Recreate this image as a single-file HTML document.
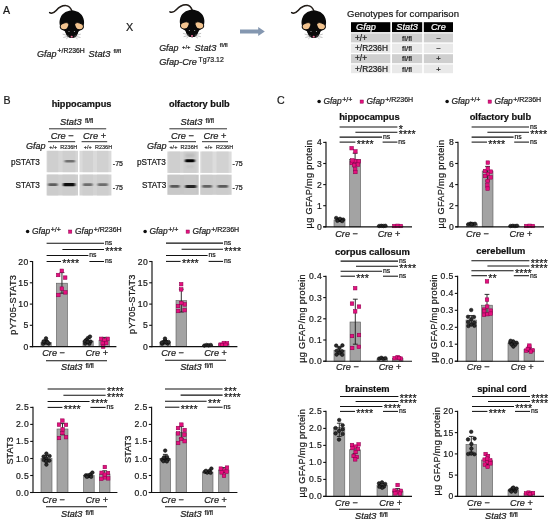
<!DOCTYPE html>
<html lang="en"><head><meta charset="utf-8"><title>Figure</title>
<style>html,body{margin:0;padding:0;background:#fff}svg{display:block}text{font-family:"Liberation Sans", sans-serif;white-space:pre}</style>
</head><body>
<svg width="550" height="526" viewBox="0 0 550 526">
<defs>
<filter id="b1" x="-20%" y="-100%" width="140%" height="300%"><feGaussianBlur stdDeviation="1.1 0.8"/></filter>
<filter id="b2" x="-20%" y="-100%" width="140%" height="300%"><feGaussianBlur stdDeviation="0.9 0.6"/></filter>
<filter id="b3" x="-5%" y="-5%" width="110%" height="110%"><feGaussianBlur stdDeviation="1.2 0.5"/></filter>
</defs>
<rect width="550" height="526" fill="#ffffff"/>
<g id="panelA">
<text x="3.00" y="14.40" font-size="10.60" fill="#1a1a1a" stroke="#1a1a1a" stroke-width="0.22">A</text>
<g transform="translate(0.00,0.00)">
<path d="M49.6,12.6 C51.6,13.8 53.8,13 56.2,10.4 C59.4,6.9 62.6,5.4 66,5.6 C69.4,5.9 71,8.4 72.2,11.6" fill="none" stroke="#0d0d0d" stroke-width="1.45" stroke-linecap="round"/>
<path d="M50.6,13 C52,13.5 53.8,13 56.2,10.4 C59.4,6.9 62.6,5.4 66,5.6 C69.4,5.9 71,8.4 72.2,11.6" fill="none" stroke="#7a5538" stroke-width="0.28" stroke-linecap="round"/>
<path d="M71.9,10.5 C76.6,10.5 80.6,12.8 82.6,16.4 C84.2,19.4 84.4,22.4 83.8,25 C83.2,27.6 81.6,29.6 79.6,30.8 L78.4,31.6 C77.8,33.6 76.8,35.4 75.8,36.6 C74.3,38.5 69.3,38.5 67.8,36.6 C66.8,35.4 65.8,33.6 65.2,31.6 L64,30.8 C62,29.6 60.4,27.6 59.8,25 C59.2,22.4 59.4,19.4 61,16.4 C63.2,12.8 67.2,10.5 71.9,10.5 Z" fill="#0a0a0a"/>
<ellipse cx="64.8" cy="26.2" rx="4.7" ry="3.4" transform="rotate(-16 64.8 26.2)" fill="#f3c48f" stroke="#0a0a0a" stroke-width="1.0"/>
<ellipse cx="78.8" cy="26.2" rx="4.7" ry="3.4" transform="rotate(16 78.8 26.2)" fill="#f3c48f" stroke="#0a0a0a" stroke-width="1.0"/>
<path d="M69.4,22 C70.2,20.5 73.4,20.5 74.2,22 C75,25 76.8,29 78.4,31.4 C77.8,33.6 76.8,35.4 75.8,36.6 C74.3,38.5 69.3,38.5 67.8,36.6 C66.8,35.4 65.8,33.6 65.2,31.4 C66.8,29 68.6,25 69.4,22 Z" fill="#0a0a0a"/>
<circle cx="69.0" cy="31.4" r="0.5" fill="#cfcfcf"/><circle cx="74.4" cy="31.4" r="0.5" fill="#cfcfcf"/>
<ellipse cx="71.7" cy="36.7" rx="1.05" ry="0.85" fill="#f0709c"/>
<line x1="68.80" y1="35.80" x2="62.60" y2="34.10" stroke="#6a6a6a" stroke-width="0.40" stroke-linecap="butt"/>
<line x1="68.80" y1="36.10" x2="63.30" y2="37.50" stroke="#6a6a6a" stroke-width="0.40" stroke-linecap="butt"/>
<line x1="69.00" y1="36.40" x2="66.30" y2="38.90" stroke="#6a6a6a" stroke-width="0.40" stroke-linecap="butt"/>
<line x1="74.60" y1="35.80" x2="80.80" y2="34.10" stroke="#6a6a6a" stroke-width="0.40" stroke-linecap="butt"/>
<line x1="74.60" y1="36.10" x2="80.50" y2="37.50" stroke="#6a6a6a" stroke-width="0.40" stroke-linecap="butt"/>
<line x1="74.40" y1="36.40" x2="77.50" y2="38.90" stroke="#6a6a6a" stroke-width="0.40" stroke-linecap="butt"/>
</g>
<text x="37.00" y="57.00" font-size="9.00" font-style="italic" fill="#1a1a1a" stroke="#1a1a1a" stroke-width="0.22">Gfap</text>
<text x="57.60" y="53.20" font-size="6.85" fill="#1a1a1a" stroke="#1a1a1a" stroke-width="0.22">+/R236H</text>
<text x="88.60" y="57.00" font-size="9.30" font-style="italic" fill="#1a1a1a" stroke="#1a1a1a" stroke-width="0.22">Stat3</text>
<text x="113.60" y="53.00" font-size="5.80" fill="#1a1a1a" stroke="#1a1a1a" stroke-width="0.22">fl/fl</text>
<text x="126.00" y="31.00" font-size="10.80" fill="#1a1a1a" stroke="#1a1a1a" stroke-width="0.22">X</text>
<g transform="translate(120.30,-0.80)">
<path d="M49.6,12.6 C51.6,13.8 53.8,13 56.2,10.4 C59.4,6.9 62.6,5.4 66,5.6 C69.4,5.9 71,8.4 72.2,11.6" fill="none" stroke="#0d0d0d" stroke-width="1.45" stroke-linecap="round"/>
<path d="M50.6,13 C52,13.5 53.8,13 56.2,10.4 C59.4,6.9 62.6,5.4 66,5.6 C69.4,5.9 71,8.4 72.2,11.6" fill="none" stroke="#7a5538" stroke-width="0.28" stroke-linecap="round"/>
<path d="M71.9,10.5 C76.6,10.5 80.6,12.8 82.6,16.4 C84.2,19.4 84.4,22.4 83.8,25 C83.2,27.6 81.6,29.6 79.6,30.8 L78.4,31.6 C77.8,33.6 76.8,35.4 75.8,36.6 C74.3,38.5 69.3,38.5 67.8,36.6 C66.8,35.4 65.8,33.6 65.2,31.6 L64,30.8 C62,29.6 60.4,27.6 59.8,25 C59.2,22.4 59.4,19.4 61,16.4 C63.2,12.8 67.2,10.5 71.9,10.5 Z" fill="#0a0a0a"/>
<ellipse cx="64.8" cy="26.2" rx="4.7" ry="3.4" transform="rotate(-16 64.8 26.2)" fill="#f3c48f" stroke="#0a0a0a" stroke-width="1.0"/>
<ellipse cx="78.8" cy="26.2" rx="4.7" ry="3.4" transform="rotate(16 78.8 26.2)" fill="#f3c48f" stroke="#0a0a0a" stroke-width="1.0"/>
<path d="M69.4,22 C70.2,20.5 73.4,20.5 74.2,22 C75,25 76.8,29 78.4,31.4 C77.8,33.6 76.8,35.4 75.8,36.6 C74.3,38.5 69.3,38.5 67.8,36.6 C66.8,35.4 65.8,33.6 65.2,31.4 C66.8,29 68.6,25 69.4,22 Z" fill="#0a0a0a"/>
<circle cx="69.0" cy="31.4" r="0.5" fill="#cfcfcf"/><circle cx="74.4" cy="31.4" r="0.5" fill="#cfcfcf"/>
<ellipse cx="71.7" cy="36.7" rx="1.05" ry="0.85" fill="#f0709c"/>
<line x1="68.80" y1="35.80" x2="62.60" y2="34.10" stroke="#6a6a6a" stroke-width="0.40" stroke-linecap="butt"/>
<line x1="68.80" y1="36.10" x2="63.30" y2="37.50" stroke="#6a6a6a" stroke-width="0.40" stroke-linecap="butt"/>
<line x1="69.00" y1="36.40" x2="66.30" y2="38.90" stroke="#6a6a6a" stroke-width="0.40" stroke-linecap="butt"/>
<line x1="74.60" y1="35.80" x2="80.80" y2="34.10" stroke="#6a6a6a" stroke-width="0.40" stroke-linecap="butt"/>
<line x1="74.60" y1="36.10" x2="80.50" y2="37.50" stroke="#6a6a6a" stroke-width="0.40" stroke-linecap="butt"/>
<line x1="74.40" y1="36.40" x2="77.50" y2="38.90" stroke="#6a6a6a" stroke-width="0.40" stroke-linecap="butt"/>
</g>
<text x="159.20" y="51.40" font-size="8.90" font-style="italic" fill="#1a1a1a" stroke="#1a1a1a" stroke-width="0.22">Gfap</text>
<text x="182.00" y="48.90" font-size="5.90" fill="#1a1a1a" stroke="#1a1a1a" stroke-width="0.22">+/+</text>
<text x="194.60" y="51.40" font-size="9.30" font-style="italic" fill="#1a1a1a" stroke="#1a1a1a" stroke-width="0.22">Stat3</text>
<text x="219.80" y="47.20" font-size="6.20" fill="#1a1a1a" stroke="#1a1a1a" stroke-width="0.22">fl/fl</text>
<text x="159.20" y="65.30" font-size="9.20" font-style="italic" fill="#1a1a1a" stroke="#1a1a1a" stroke-width="0.22">Gfap-Cre</text>
<text x="198.50" y="62.20" font-size="6.90" fill="#1a1a1a" stroke="#1a1a1a" stroke-width="0.22">Tg73.12</text>
<path d="M240,29.5 H258.2 V27 L264.8,31.5 L258.2,36 V33.6 H240 Z" fill="#8497b0"/>
<g transform="translate(242.00,0.00)">
<path d="M49.6,12.6 C51.6,13.8 53.8,13 56.2,10.4 C59.4,6.9 62.6,5.4 66,5.6 C69.4,5.9 71,8.4 72.2,11.6" fill="none" stroke="#0d0d0d" stroke-width="1.45" stroke-linecap="round"/>
<path d="M50.6,13 C52,13.5 53.8,13 56.2,10.4 C59.4,6.9 62.6,5.4 66,5.6 C69.4,5.9 71,8.4 72.2,11.6" fill="none" stroke="#7a5538" stroke-width="0.28" stroke-linecap="round"/>
<path d="M71.9,10.5 C76.6,10.5 80.6,12.8 82.6,16.4 C84.2,19.4 84.4,22.4 83.8,25 C83.2,27.6 81.6,29.6 79.6,30.8 L78.4,31.6 C77.8,33.6 76.8,35.4 75.8,36.6 C74.3,38.5 69.3,38.5 67.8,36.6 C66.8,35.4 65.8,33.6 65.2,31.6 L64,30.8 C62,29.6 60.4,27.6 59.8,25 C59.2,22.4 59.4,19.4 61,16.4 C63.2,12.8 67.2,10.5 71.9,10.5 Z" fill="#0a0a0a"/>
<ellipse cx="64.8" cy="26.2" rx="4.7" ry="3.4" transform="rotate(-16 64.8 26.2)" fill="#f3c48f" stroke="#0a0a0a" stroke-width="1.0"/>
<ellipse cx="78.8" cy="26.2" rx="4.7" ry="3.4" transform="rotate(16 78.8 26.2)" fill="#f3c48f" stroke="#0a0a0a" stroke-width="1.0"/>
<path d="M69.4,22 C70.2,20.5 73.4,20.5 74.2,22 C75,25 76.8,29 78.4,31.4 C77.8,33.6 76.8,35.4 75.8,36.6 C74.3,38.5 69.3,38.5 67.8,36.6 C66.8,35.4 65.8,33.6 65.2,31.4 C66.8,29 68.6,25 69.4,22 Z" fill="#0a0a0a"/>
<circle cx="69.0" cy="31.4" r="0.5" fill="#cfcfcf"/><circle cx="74.4" cy="31.4" r="0.5" fill="#cfcfcf"/>
<ellipse cx="71.7" cy="36.7" rx="1.05" ry="0.85" fill="#f0709c"/>
<line x1="68.80" y1="35.80" x2="62.60" y2="34.10" stroke="#6a6a6a" stroke-width="0.40" stroke-linecap="butt"/>
<line x1="68.80" y1="36.10" x2="63.30" y2="37.50" stroke="#6a6a6a" stroke-width="0.40" stroke-linecap="butt"/>
<line x1="69.00" y1="36.40" x2="66.30" y2="38.90" stroke="#6a6a6a" stroke-width="0.40" stroke-linecap="butt"/>
<line x1="74.60" y1="35.80" x2="80.80" y2="34.10" stroke="#6a6a6a" stroke-width="0.40" stroke-linecap="butt"/>
<line x1="74.60" y1="36.10" x2="80.50" y2="37.50" stroke="#6a6a6a" stroke-width="0.40" stroke-linecap="butt"/>
<line x1="74.40" y1="36.40" x2="77.50" y2="38.90" stroke="#6a6a6a" stroke-width="0.40" stroke-linecap="butt"/>
</g>
<text x="347.00" y="17.10" font-size="9.55" fill="#1a1a1a" stroke="#1a1a1a" stroke-width="0.22">Genotypes for comparison</text>
<rect x="351.00" y="22.20" width="39.30" height="9.90" fill="#000"/>
<rect x="392.00" y="22.20" width="30.20" height="9.90" fill="#000"/>
<rect x="423.80" y="22.20" width="29.20" height="9.90" fill="#000"/>
<text x="356.00" y="30.40" font-size="9.20" font-style="italic" fill="#fff" stroke="#fff" stroke-width="0.22">Gfap</text>
<text x="407.10" y="30.40" font-size="9.20" font-style="italic" text-anchor="middle" fill="#fff" stroke="#fff" stroke-width="0.22">Stat3</text>
<text x="438.40" y="30.40" font-size="9.20" font-style="italic" text-anchor="middle" fill="#fff" stroke="#fff" stroke-width="0.22">Cre</text>
<rect x="351.00" y="33.40" width="39.30" height="9.00" fill="#cfcfcf"/>
<rect x="392.00" y="33.40" width="30.20" height="9.00" fill="#cfcfcf"/>
<rect x="423.80" y="33.40" width="29.20" height="9.00" fill="#cfcfcf"/>
<text x="355.00" y="40.60" font-size="8.30" fill="#1a1a1a" stroke="#1a1a1a" stroke-width="0.22">+/+</text>
<text x="407.10" y="40.60" font-size="7.80" text-anchor="middle" fill="#1a1a1a" stroke="#1a1a1a" stroke-width="0.22">fl/fl</text>
<text x="438.40" y="40.60" font-size="7.60" text-anchor="middle" fill="#1a1a1a" stroke="#1a1a1a" stroke-width="0.22">−</text>
<rect x="351.00" y="43.70" width="39.30" height="9.20" fill="#e9e9e9"/>
<rect x="392.00" y="43.70" width="30.20" height="9.20" fill="#e9e9e9"/>
<rect x="423.80" y="43.70" width="29.20" height="9.20" fill="#e9e9e9"/>
<text x="355.00" y="51.00" font-size="8.30" fill="#1a1a1a" stroke="#1a1a1a" stroke-width="0.22">+/R236H</text>
<text x="407.10" y="51.00" font-size="7.80" text-anchor="middle" fill="#1a1a1a" stroke="#1a1a1a" stroke-width="0.22">fl/fl</text>
<text x="438.40" y="51.00" font-size="7.60" text-anchor="middle" fill="#1a1a1a" stroke="#1a1a1a" stroke-width="0.22">−</text>
<rect x="351.00" y="54.20" width="39.30" height="9.00" fill="#cfcfcf"/>
<rect x="392.00" y="54.20" width="30.20" height="9.00" fill="#cfcfcf"/>
<rect x="423.80" y="54.20" width="29.20" height="9.00" fill="#cfcfcf"/>
<text x="355.00" y="61.40" font-size="8.30" fill="#1a1a1a" stroke="#1a1a1a" stroke-width="0.22">+/+</text>
<text x="407.10" y="61.40" font-size="7.80" text-anchor="middle" fill="#1a1a1a" stroke="#1a1a1a" stroke-width="0.22">fl/fl</text>
<text x="438.40" y="61.40" font-size="7.60" text-anchor="middle" fill="#1a1a1a" stroke="#1a1a1a" stroke-width="0.22">+</text>
<rect x="351.00" y="64.50" width="39.30" height="8.70" fill="#e9e9e9"/>
<rect x="392.00" y="64.50" width="30.20" height="8.70" fill="#e9e9e9"/>
<rect x="423.80" y="64.50" width="29.20" height="8.70" fill="#e9e9e9"/>
<text x="355.00" y="71.55" font-size="8.30" fill="#1a1a1a" stroke="#1a1a1a" stroke-width="0.22">+/R236H</text>
<text x="407.10" y="71.55" font-size="7.80" text-anchor="middle" fill="#1a1a1a" stroke="#1a1a1a" stroke-width="0.22">fl/fl</text>
<text x="438.40" y="71.55" font-size="7.60" text-anchor="middle" fill="#1a1a1a" stroke="#1a1a1a" stroke-width="0.22">+</text>
</g>
<g id="panelB">
<text x="3.40" y="104.20" font-size="10.60" fill="#1a1a1a" stroke="#1a1a1a" stroke-width="0.22">B</text>
<text x="81.50" y="106.80" font-size="9.20" font-weight="bold" text-anchor="middle" fill="#111" stroke="#111" stroke-width="0.22">hippocampus</text>
<text x="60.00" y="124.80" font-size="9.35" font-style="italic" fill="#1a1a1a" stroke="#1a1a1a" stroke-width="0.22">Stat3</text>
<text x="85.00" y="122.90" font-size="6.50" fill="#1a1a1a" stroke="#1a1a1a" stroke-width="0.22">fl/fl</text>
<line x1="49.00" y1="128.80" x2="106.20" y2="128.80" stroke="#1a1a1a" stroke-width="0.90" stroke-linecap="butt"/>
<text x="62.20" y="139.40" font-size="9.30" text-anchor="middle" fill="#1a1a1a" stroke="#1a1a1a" stroke-width="0.22"><tspan font-style="italic">Cre</tspan> −</text>
<text x="94.60" y="139.40" font-size="9.30" text-anchor="middle" fill="#1a1a1a" stroke="#1a1a1a" stroke-width="0.22"><tspan font-style="italic">Cre</tspan> +</text>
<line x1="48.00" y1="141.70" x2="75.20" y2="141.70" stroke="#1a1a1a" stroke-width="0.90" stroke-linecap="butt"/>
<line x1="81.60" y1="141.70" x2="107.20" y2="141.70" stroke="#1a1a1a" stroke-width="0.90" stroke-linecap="butt"/>
<text x="26.00" y="149.00" font-size="9.00" font-style="italic" fill="#1a1a1a" stroke="#1a1a1a" stroke-width="0.22">Gfap</text>
<text x="49.20" y="148.80" font-size="5.50" fill="#333" stroke="#333" stroke-width="0.22">+/+</text>
<text x="60.20" y="148.80" font-size="5.50" fill="#333" stroke="#333" stroke-width="0.22">R236H</text>
<text x="83.80" y="148.80" font-size="5.50" fill="#333" stroke="#333" stroke-width="0.22">+/+</text>
<text x="95.00" y="148.80" font-size="5.50" fill="#333" stroke="#333" stroke-width="0.22">R236H</text>
<rect x="46.60" y="150.80" width="31.40" height="21.40" fill="#d6d6d6"/>
<rect x="79.50" y="150.80" width="31.90" height="21.40" fill="#dadada"/>
<rect x="47.60" y="150.80" width="10.60" height="21.40" fill="#cbcbcb" opacity="0.55"/>
<rect x="62.60" y="150.80" width="12.80" height="21.40" fill="#cbcbcb" opacity="0.55"/>
<rect x="82.60" y="150.80" width="10.40" height="21.40" fill="#cbcbcb" opacity="0.55"/>
<rect x="97.00" y="150.80" width="11.40" height="21.40" fill="#cbcbcb" opacity="0.55"/>
<rect x="46.60" y="174.50" width="31.40" height="21.00" fill="#cfcfcf"/>
<rect x="79.50" y="174.50" width="31.90" height="21.00" fill="#d3d3d3"/>
<rect x="47.60" y="174.50" width="10.60" height="21.00" fill="#cbcbcb" opacity="0.55"/>
<rect x="62.60" y="174.50" width="12.80" height="21.00" fill="#cbcbcb" opacity="0.55"/>
<rect x="82.60" y="174.50" width="10.40" height="21.00" fill="#cbcbcb" opacity="0.55"/>
<rect x="97.00" y="174.50" width="11.40" height="21.00" fill="#cbcbcb" opacity="0.55"/>
<rect x="64.60" y="160.00" width="10.40" height="2.60" rx="1" fill="#4a4a4a" opacity="0.70" filter="url(#b2)"/>
<rect x="48.20" y="183.20" width="9.40" height="2.80" rx="1" fill="#4a4a4a" opacity="0.85" filter="url(#b2)"/>
<rect x="63.00" y="183.00" width="12.20" height="3.20" rx="1" fill="#0a0a0a" opacity="1.00" filter="url(#b2)"/>
<rect x="83.00" y="183.30" width="9.60" height="2.60" rx="1" fill="#555" opacity="0.80" filter="url(#b2)"/>
<rect x="97.60" y="183.30" width="10.20" height="2.60" rx="1" fill="#555" opacity="0.80" filter="url(#b2)"/>
<text x="11.00" y="165.20" font-size="8.20" fill="#1a1a1a" stroke="#1a1a1a" stroke-width="0.22">pSTAT3</text>
<text x="15.60" y="188.20" font-size="8.20" fill="#1a1a1a" stroke="#1a1a1a" stroke-width="0.22">STAT3</text>
<text x="112.80" y="166.20" font-size="7.00" fill="#1a1a1a" stroke="#1a1a1a" stroke-width="0.22">-75</text>
<text x="112.80" y="190.40" font-size="7.00" fill="#1a1a1a" stroke="#1a1a1a" stroke-width="0.22">-75</text>
<text x="199.30" y="106.80" font-size="9.20" font-weight="bold" text-anchor="middle" fill="#111" stroke="#111" stroke-width="0.22">olfactory bulb</text>
<text x="180.60" y="124.80" font-size="9.35" font-style="italic" fill="#1a1a1a" stroke="#1a1a1a" stroke-width="0.22">Stat3</text>
<text x="205.60" y="122.90" font-size="6.50" fill="#1a1a1a" stroke="#1a1a1a" stroke-width="0.22">fl/fl</text>
<line x1="169.40" y1="128.80" x2="227.00" y2="128.80" stroke="#1a1a1a" stroke-width="0.90" stroke-linecap="butt"/>
<text x="182.50" y="139.40" font-size="9.30" text-anchor="middle" fill="#1a1a1a" stroke="#1a1a1a" stroke-width="0.22"><tspan font-style="italic">Cre</tspan> −</text>
<text x="215.00" y="139.40" font-size="9.30" text-anchor="middle" fill="#1a1a1a" stroke="#1a1a1a" stroke-width="0.22"><tspan font-style="italic">Cre</tspan> +</text>
<line x1="168.60" y1="141.70" x2="196.00" y2="141.70" stroke="#1a1a1a" stroke-width="0.90" stroke-linecap="butt"/>
<line x1="202.00" y1="141.70" x2="228.00" y2="141.70" stroke="#1a1a1a" stroke-width="0.90" stroke-linecap="butt"/>
<text x="147.00" y="149.00" font-size="9.00" font-style="italic" fill="#1a1a1a" stroke="#1a1a1a" stroke-width="0.22">Gfap</text>
<text x="169.40" y="148.80" font-size="5.50" fill="#333" stroke="#333" stroke-width="0.22">+/+</text>
<text x="180.60" y="148.80" font-size="5.50" fill="#333" stroke="#333" stroke-width="0.22">R236H</text>
<text x="204.60" y="148.80" font-size="5.50" fill="#333" stroke="#333" stroke-width="0.22">+/+</text>
<text x="216.00" y="148.80" font-size="5.50" fill="#333" stroke="#333" stroke-width="0.22">R236H</text>
<rect x="167.40" y="151.50" width="31.30" height="21.40" fill="#d4d4d4"/>
<rect x="200.20" y="151.50" width="31.40" height="21.40" fill="#dcdcdc"/>
<rect x="169.40" y="151.50" width="10.60" height="21.40" fill="#cbcbcb" opacity="0.55"/>
<rect x="183.60" y="151.50" width="12.80" height="21.40" fill="#cbcbcb" opacity="0.55"/>
<rect x="201.60" y="151.50" width="10.80" height="21.40" fill="#cbcbcb" opacity="0.55"/>
<rect x="216.60" y="151.50" width="12.00" height="21.40" fill="#cbcbcb" opacity="0.55"/>
<rect x="167.40" y="174.70" width="31.30" height="20.10" fill="#c6c6c6"/>
<rect x="200.20" y="174.70" width="31.40" height="20.10" fill="#cecece"/>
<rect x="169.40" y="174.70" width="10.60" height="20.10" fill="#cbcbcb" opacity="0.55"/>
<rect x="183.60" y="174.70" width="12.80" height="20.10" fill="#cbcbcb" opacity="0.55"/>
<rect x="201.60" y="174.70" width="10.80" height="20.10" fill="#cbcbcb" opacity="0.55"/>
<rect x="216.60" y="174.70" width="12.00" height="20.10" fill="#cbcbcb" opacity="0.55"/>
<rect x="185.00" y="159.35" width="9.80" height="2.90" rx="1" fill="#000" opacity="1.00" filter="url(#b2)"/>
<rect x="185.40" y="153.40" width="9.20" height="4.00" rx="1" fill="#888" opacity="0.28" filter="url(#b1)"/>
<rect x="186.00" y="165.50" width="8.00" height="2.00" rx="1" fill="#888" opacity="0.20" filter="url(#b1)"/>
<rect x="169.90" y="185.00" width="9.70" height="2.80" rx="1" fill="#444" opacity="0.85" filter="url(#b2)"/>
<rect x="185.20" y="184.90" width="11.20" height="3.00" rx="1" fill="#1c1c1c" opacity="0.95" filter="url(#b2)"/>
<rect x="202.20" y="185.00" width="9.80" height="2.80" rx="1" fill="#4c4c4c" opacity="0.82" filter="url(#b2)"/>
<rect x="217.50" y="184.95" width="10.50" height="2.90" rx="1" fill="#464646" opacity="0.85" filter="url(#b2)"/>
<text x="137.00" y="165.20" font-size="8.20" fill="#1a1a1a" stroke="#1a1a1a" stroke-width="0.22">pSTAT3</text>
<text x="142.00" y="188.20" font-size="8.20" fill="#1a1a1a" stroke="#1a1a1a" stroke-width="0.22">STAT3</text>
<text x="232.60" y="166.20" font-size="7.00" fill="#1a1a1a" stroke="#1a1a1a" stroke-width="0.22">-75</text>
<text x="232.60" y="190.40" font-size="7.00" fill="#1a1a1a" stroke="#1a1a1a" stroke-width="0.22">-75</text>
<circle cx="27.60" cy="231.60" r="1.75" fill="#0d0d0d"/>
<text x="32.00" y="234.40" font-size="8.40" font-style="italic" fill="#1a1a1a" stroke="#1a1a1a" stroke-width="0.22">Gfap</text>
<text x="50.70" y="232.00" font-size="7.00" fill="#1a1a1a" stroke="#1a1a1a" stroke-width="0.22">+/+</text>
<rect x="68.60" y="230.00" width="3.20" height="3.20" fill="#e6107e" stroke="#8e0050" stroke-width="0.50"/>
<text x="75.10" y="234.40" font-size="8.40" font-style="italic" fill="#1a1a1a" stroke="#1a1a1a" stroke-width="0.22">Gfap</text>
<text x="93.70" y="232.00" font-size="7.05" fill="#1a1a1a" stroke="#1a1a1a" stroke-width="0.22">+/R236H</text>
<circle cx="145.10" cy="231.60" r="1.75" fill="#0d0d0d"/>
<text x="149.50" y="234.40" font-size="8.40" font-style="italic" fill="#1a1a1a" stroke="#1a1a1a" stroke-width="0.22">Gfap</text>
<text x="168.20" y="232.00" font-size="7.00" fill="#1a1a1a" stroke="#1a1a1a" stroke-width="0.22">+/+</text>
<rect x="186.10" y="230.00" width="3.20" height="3.20" fill="#e6107e" stroke="#8e0050" stroke-width="0.50"/>
<text x="192.60" y="234.40" font-size="8.40" font-style="italic" fill="#1a1a1a" stroke="#1a1a1a" stroke-width="0.22">Gfap</text>
<text x="211.20" y="232.00" font-size="7.05" fill="#1a1a1a" stroke="#1a1a1a" stroke-width="0.22">+/R236H</text>
<rect x="41.00" y="342.40" width="10.20" height="4.20" fill="#a3a3a3" stroke="#5a5a5a" stroke-width="0.60"/>
<line x1="46.10" y1="340.60" x2="46.10" y2="344.20" stroke="#1a1a1a" stroke-width="0.90" stroke-linecap="butt"/>
<line x1="43.70" y1="340.60" x2="48.50" y2="340.60" stroke="#1a1a1a" stroke-width="0.90" stroke-linecap="butt"/>
<line x1="43.70" y1="344.20" x2="48.50" y2="344.20" stroke="#1a1a1a" stroke-width="0.90" stroke-linecap="butt"/>
<circle cx="43.20" cy="343.80" r="1.80" fill="#2b2b2b" stroke="#000" stroke-width="0.5"/>
<circle cx="46.20" cy="341.00" r="1.80" fill="#2b2b2b" stroke="#000" stroke-width="0.5"/>
<circle cx="48.80" cy="343.60" r="1.80" fill="#2b2b2b" stroke="#000" stroke-width="0.5"/>
<circle cx="44.60" cy="342.00" r="1.80" fill="#2b2b2b" stroke="#000" stroke-width="0.5"/>
<circle cx="47.60" cy="342.40" r="1.80" fill="#2b2b2b" stroke="#000" stroke-width="0.5"/>
<circle cx="46.00" cy="338.40" r="1.80" fill="#2b2b2b" stroke="#000" stroke-width="0.5"/>
<circle cx="43.60" cy="341.40" r="1.80" fill="#2b2b2b" stroke="#000" stroke-width="0.5"/>
<rect x="56.40" y="283.20" width="11.10" height="63.40" fill="#a3a3a3" stroke="#5a5a5a" stroke-width="0.60"/>
<line x1="61.95" y1="272.60" x2="61.95" y2="293.20" stroke="#1a1a1a" stroke-width="0.90" stroke-linecap="butt"/>
<line x1="59.55" y1="272.60" x2="64.35" y2="272.60" stroke="#1a1a1a" stroke-width="0.90" stroke-linecap="butt"/>
<line x1="59.55" y1="293.20" x2="64.35" y2="293.20" stroke="#1a1a1a" stroke-width="0.90" stroke-linecap="butt"/>
<rect x="60.05" y="269.05" width="3.50" height="3.50" fill="#e6107e" stroke="#8e0050" stroke-width="0.55"/>
<rect x="56.45" y="273.25" width="3.50" height="3.50" fill="#e6107e" stroke="#8e0050" stroke-width="0.55"/>
<rect x="63.45" y="275.85" width="3.50" height="3.50" fill="#e6107e" stroke="#8e0050" stroke-width="0.55"/>
<rect x="60.05" y="286.85" width="3.50" height="3.50" fill="#e6107e" stroke="#8e0050" stroke-width="0.55"/>
<rect x="63.65" y="290.65" width="3.50" height="3.50" fill="#e6107e" stroke="#8e0050" stroke-width="0.55"/>
<rect x="56.65" y="293.25" width="3.50" height="3.50" fill="#e6107e" stroke="#8e0050" stroke-width="0.55"/>
<rect x="83.00" y="341.00" width="10.20" height="5.60" fill="#a3a3a3" stroke="#5a5a5a" stroke-width="0.60"/>
<line x1="88.10" y1="338.40" x2="88.10" y2="343.60" stroke="#1a1a1a" stroke-width="0.90" stroke-linecap="butt"/>
<line x1="85.70" y1="338.40" x2="90.50" y2="338.40" stroke="#1a1a1a" stroke-width="0.90" stroke-linecap="butt"/>
<line x1="85.70" y1="343.60" x2="90.50" y2="343.60" stroke="#1a1a1a" stroke-width="0.90" stroke-linecap="butt"/>
<circle cx="85.20" cy="343.60" r="1.80" fill="#2b2b2b" stroke="#000" stroke-width="0.5"/>
<circle cx="88.00" cy="338.00" r="1.80" fill="#2b2b2b" stroke="#000" stroke-width="0.5"/>
<circle cx="90.60" cy="341.60" r="1.80" fill="#2b2b2b" stroke="#000" stroke-width="0.5"/>
<circle cx="86.20" cy="340.00" r="1.80" fill="#2b2b2b" stroke="#000" stroke-width="0.5"/>
<circle cx="89.40" cy="343.80" r="1.80" fill="#2b2b2b" stroke="#000" stroke-width="0.5"/>
<circle cx="85.00" cy="341.20" r="1.80" fill="#2b2b2b" stroke="#000" stroke-width="0.5"/>
<circle cx="90.00" cy="336.60" r="1.80" fill="#2b2b2b" stroke="#000" stroke-width="0.5"/>
<circle cx="87.60" cy="342.00" r="1.80" fill="#2b2b2b" stroke="#000" stroke-width="0.5"/>
<rect x="99.00" y="340.20" width="10.40" height="6.40" fill="#a3a3a3" stroke="#5a5a5a" stroke-width="0.60"/>
<line x1="104.20" y1="337.40" x2="104.20" y2="343.00" stroke="#1a1a1a" stroke-width="0.90" stroke-linecap="butt"/>
<line x1="101.80" y1="337.40" x2="106.60" y2="337.40" stroke="#1a1a1a" stroke-width="0.90" stroke-linecap="butt"/>
<line x1="101.80" y1="343.00" x2="106.60" y2="343.00" stroke="#1a1a1a" stroke-width="0.90" stroke-linecap="butt"/>
<rect x="99.45" y="337.05" width="3.50" height="3.50" fill="#e6107e" stroke="#8e0050" stroke-width="0.55"/>
<rect x="105.95" y="337.05" width="3.50" height="3.50" fill="#e6107e" stroke="#8e0050" stroke-width="0.55"/>
<rect x="102.75" y="338.55" width="3.50" height="3.50" fill="#e6107e" stroke="#8e0050" stroke-width="0.55"/>
<rect x="100.85" y="341.45" width="3.50" height="3.50" fill="#e6107e" stroke="#8e0050" stroke-width="0.55"/>
<rect x="104.55" y="341.25" width="3.50" height="3.50" fill="#e6107e" stroke="#8e0050" stroke-width="0.55"/>
<rect x="101.45" y="344.85" width="3.50" height="3.50" fill="#e6107e" stroke="#8e0050" stroke-width="0.55"/>
<line x1="32.60" y1="260.95" x2="32.60" y2="347.15" stroke="#111" stroke-width="1.15" stroke-linecap="butt"/>
<line x1="29.80" y1="346.60" x2="116.40" y2="346.60" stroke="#111" stroke-width="1.15" stroke-linecap="butt"/>
<line x1="29.80" y1="261.50" x2="32.60" y2="261.50" stroke="#111" stroke-width="1.10" stroke-linecap="butt"/>
<text x="28.70" y="264.55" font-size="8.60" text-anchor="end" fill="#1a1a1a" stroke="#1a1a1a" stroke-width="0.22" letter-spacing="0.4">20</text>
<line x1="29.80" y1="282.80" x2="32.60" y2="282.80" stroke="#111" stroke-width="1.10" stroke-linecap="butt"/>
<text x="28.70" y="285.85" font-size="8.60" text-anchor="end" fill="#1a1a1a" stroke="#1a1a1a" stroke-width="0.22" letter-spacing="0.4">15</text>
<line x1="29.80" y1="304.10" x2="32.60" y2="304.10" stroke="#111" stroke-width="1.10" stroke-linecap="butt"/>
<text x="28.70" y="307.15" font-size="8.60" text-anchor="end" fill="#1a1a1a" stroke="#1a1a1a" stroke-width="0.22" letter-spacing="0.4">10</text>
<line x1="29.80" y1="325.30" x2="32.60" y2="325.30" stroke="#111" stroke-width="1.10" stroke-linecap="butt"/>
<text x="28.70" y="328.35" font-size="8.60" text-anchor="end" fill="#1a1a1a" stroke="#1a1a1a" stroke-width="0.22" letter-spacing="0.4">5</text>
<line x1="29.80" y1="346.60" x2="32.60" y2="346.60" stroke="#111" stroke-width="1.10" stroke-linecap="butt"/>
<text x="28.70" y="349.65" font-size="8.60" text-anchor="end" fill="#1a1a1a" stroke="#1a1a1a" stroke-width="0.22" letter-spacing="0.4">0</text>
<text x="53.60" y="356.40" font-size="9.20" text-anchor="middle" fill="#1a1a1a" stroke="#1a1a1a" stroke-width="0.22"><tspan font-style="italic">Cre</tspan> −</text>
<text x="96.80" y="356.40" font-size="9.20" text-anchor="middle" fill="#1a1a1a" stroke="#1a1a1a" stroke-width="0.22"><tspan font-style="italic">Cre</tspan> +</text>
<line x1="46.00" y1="360.70" x2="107.00" y2="360.70" stroke="#111" stroke-width="1.05" stroke-linecap="butt"/>
<text x="61.00" y="370.00" font-size="9.20" font-style="italic" fill="#1a1a1a" stroke="#1a1a1a" stroke-width="0.22">Stat3</text>
<text x="85.40" y="368.10" font-size="6.50" fill="#1a1a1a" stroke="#1a1a1a" stroke-width="0.22">fl/fl</text>
<line x1="46.60" y1="243.30" x2="104.00" y2="243.30" stroke="#111" stroke-width="1.05" stroke-linecap="butt"/>
<text x="104.90" y="245.20" font-size="6.80" fill="#1a1a1a" stroke="#1a1a1a" stroke-width="0.22">ns</text>
<line x1="62.40" y1="249.40" x2="104.00" y2="249.40" stroke="#111" stroke-width="1.05" stroke-linecap="butt"/>
<text x="105.30" y="255.30" font-size="10.60" fill="#1a1a1a" stroke="#1a1a1a" stroke-width="0.22" letter-spacing="0.12">****</text>
<line x1="46.60" y1="255.50" x2="88.40" y2="255.50" stroke="#111" stroke-width="1.05" stroke-linecap="butt"/>
<text x="89.30" y="257.40" font-size="6.80" fill="#1a1a1a" stroke="#1a1a1a" stroke-width="0.22">ns</text>
<line x1="46.60" y1="261.50" x2="61.00" y2="261.50" stroke="#111" stroke-width="1.05" stroke-linecap="butt"/>
<text x="62.30" y="267.40" font-size="10.60" fill="#1a1a1a" stroke="#1a1a1a" stroke-width="0.22" letter-spacing="0.12">****</text>
<line x1="89.40" y1="261.50" x2="104.00" y2="261.50" stroke="#111" stroke-width="1.05" stroke-linecap="butt"/>
<text x="104.90" y="263.40" font-size="6.80" fill="#1a1a1a" stroke="#1a1a1a" stroke-width="0.22">ns</text>
<text transform="translate(15.60,304.90) rotate(-90)" x="-29.80" y="0" font-size="9.20" textLength="59.60" lengthAdjust="spacing" fill="#1a1a1a" stroke="#1a1a1a" stroke-width="0.22">pY705-STAT3</text>
<rect x="160.00" y="342.40" width="10.40" height="4.20" fill="#a3a3a3" stroke="#5a5a5a" stroke-width="0.60"/>
<line x1="165.20" y1="340.60" x2="165.20" y2="344.00" stroke="#1a1a1a" stroke-width="0.90" stroke-linecap="butt"/>
<line x1="162.80" y1="340.60" x2="167.60" y2="340.60" stroke="#1a1a1a" stroke-width="0.90" stroke-linecap="butt"/>
<line x1="162.80" y1="344.00" x2="167.60" y2="344.00" stroke="#1a1a1a" stroke-width="0.90" stroke-linecap="butt"/>
<circle cx="162.20" cy="343.80" r="1.80" fill="#2b2b2b" stroke="#000" stroke-width="0.5"/>
<circle cx="165.20" cy="340.60" r="1.80" fill="#2b2b2b" stroke="#000" stroke-width="0.5"/>
<circle cx="167.80" cy="343.60" r="1.80" fill="#2b2b2b" stroke="#000" stroke-width="0.5"/>
<circle cx="163.60" cy="342.00" r="1.80" fill="#2b2b2b" stroke="#000" stroke-width="0.5"/>
<circle cx="166.60" cy="342.20" r="1.80" fill="#2b2b2b" stroke="#000" stroke-width="0.5"/>
<circle cx="165.00" cy="338.60" r="1.80" fill="#2b2b2b" stroke="#000" stroke-width="0.5"/>
<circle cx="168.60" cy="342.00" r="1.80" fill="#2b2b2b" stroke="#000" stroke-width="0.5"/>
<circle cx="161.80" cy="342.60" r="1.80" fill="#2b2b2b" stroke="#000" stroke-width="0.5"/>
<rect x="176.00" y="300.60" width="10.60" height="46.00" fill="#a3a3a3" stroke="#5a5a5a" stroke-width="0.60"/>
<line x1="181.30" y1="289.20" x2="181.30" y2="312.00" stroke="#1a1a1a" stroke-width="0.90" stroke-linecap="butt"/>
<line x1="178.90" y1="289.20" x2="183.70" y2="289.20" stroke="#1a1a1a" stroke-width="0.90" stroke-linecap="butt"/>
<line x1="178.90" y1="312.00" x2="183.70" y2="312.00" stroke="#1a1a1a" stroke-width="0.90" stroke-linecap="butt"/>
<rect x="179.45" y="282.45" width="3.50" height="3.50" fill="#e6107e" stroke="#8e0050" stroke-width="0.55"/>
<rect x="179.45" y="287.65" width="3.50" height="3.50" fill="#e6107e" stroke="#8e0050" stroke-width="0.55"/>
<rect x="176.25" y="304.25" width="3.50" height="3.50" fill="#e6107e" stroke="#8e0050" stroke-width="0.55"/>
<rect x="182.85" y="302.65" width="3.50" height="3.50" fill="#e6107e" stroke="#8e0050" stroke-width="0.55"/>
<rect x="176.45" y="309.25" width="3.50" height="3.50" fill="#e6107e" stroke="#8e0050" stroke-width="0.55"/>
<rect x="182.85" y="308.45" width="3.50" height="3.50" fill="#e6107e" stroke="#8e0050" stroke-width="0.55"/>
<rect x="179.65" y="301.25" width="3.50" height="3.50" fill="#e6107e" stroke="#8e0050" stroke-width="0.55"/>
<rect x="202.40" y="345.40" width="10.40" height="1.20" fill="#a3a3a3" stroke="#5a5a5a" stroke-width="0.60"/>
<circle cx="204.40" cy="345.60" r="1.80" fill="#2b2b2b" stroke="#000" stroke-width="0.5"/>
<circle cx="206.60" cy="345.00" r="1.80" fill="#2b2b2b" stroke="#000" stroke-width="0.5"/>
<circle cx="208.60" cy="345.40" r="1.80" fill="#2b2b2b" stroke="#000" stroke-width="0.5"/>
<circle cx="210.80" cy="345.00" r="1.80" fill="#2b2b2b" stroke="#000" stroke-width="0.5"/>
<rect x="218.60" y="343.80" width="10.40" height="2.80" fill="#a3a3a3" stroke="#5a5a5a" stroke-width="0.60"/>
<rect x="218.85" y="342.85" width="3.50" height="3.50" fill="#e6107e" stroke="#8e0050" stroke-width="0.55"/>
<rect x="222.05" y="341.25" width="3.50" height="3.50" fill="#e6107e" stroke="#8e0050" stroke-width="0.55"/>
<rect x="225.25" y="341.45" width="3.50" height="3.50" fill="#e6107e" stroke="#8e0050" stroke-width="0.55"/>
<rect x="220.25" y="343.25" width="3.50" height="3.50" fill="#e6107e" stroke="#8e0050" stroke-width="0.55"/>
<rect x="223.85" y="343.05" width="3.50" height="3.50" fill="#e6107e" stroke="#8e0050" stroke-width="0.55"/>
<line x1="152.00" y1="260.95" x2="152.00" y2="347.15" stroke="#111" stroke-width="1.15" stroke-linecap="butt"/>
<line x1="149.20" y1="346.60" x2="237.40" y2="346.60" stroke="#111" stroke-width="1.15" stroke-linecap="butt"/>
<line x1="149.20" y1="261.50" x2="152.00" y2="261.50" stroke="#111" stroke-width="1.10" stroke-linecap="butt"/>
<text x="148.10" y="264.55" font-size="8.60" text-anchor="end" fill="#1a1a1a" stroke="#1a1a1a" stroke-width="0.22" letter-spacing="0.4">20</text>
<line x1="149.20" y1="282.80" x2="152.00" y2="282.80" stroke="#111" stroke-width="1.10" stroke-linecap="butt"/>
<text x="148.10" y="285.85" font-size="8.60" text-anchor="end" fill="#1a1a1a" stroke="#1a1a1a" stroke-width="0.22" letter-spacing="0.4">15</text>
<line x1="149.20" y1="304.10" x2="152.00" y2="304.10" stroke="#111" stroke-width="1.10" stroke-linecap="butt"/>
<text x="148.10" y="307.15" font-size="8.60" text-anchor="end" fill="#1a1a1a" stroke="#1a1a1a" stroke-width="0.22" letter-spacing="0.4">10</text>
<line x1="149.20" y1="325.30" x2="152.00" y2="325.30" stroke="#111" stroke-width="1.10" stroke-linecap="butt"/>
<text x="148.10" y="328.35" font-size="8.60" text-anchor="end" fill="#1a1a1a" stroke="#1a1a1a" stroke-width="0.22" letter-spacing="0.4">5</text>
<line x1="149.20" y1="346.60" x2="152.00" y2="346.60" stroke="#111" stroke-width="1.10" stroke-linecap="butt"/>
<text x="148.10" y="349.65" font-size="8.60" text-anchor="end" fill="#1a1a1a" stroke="#1a1a1a" stroke-width="0.22" letter-spacing="0.4">0</text>
<text x="172.60" y="356.40" font-size="9.20" text-anchor="middle" fill="#1a1a1a" stroke="#1a1a1a" stroke-width="0.22"><tspan font-style="italic">Cre</tspan> −</text>
<text x="215.60" y="356.40" font-size="9.20" text-anchor="middle" fill="#1a1a1a" stroke="#1a1a1a" stroke-width="0.22"><tspan font-style="italic">Cre</tspan> +</text>
<line x1="165.00" y1="360.30" x2="226.00" y2="360.30" stroke="#111" stroke-width="1.05" stroke-linecap="butt"/>
<text x="180.20" y="369.60" font-size="9.20" font-style="italic" fill="#1a1a1a" stroke="#1a1a1a" stroke-width="0.22">Stat3</text>
<text x="204.60" y="367.70" font-size="6.50" fill="#1a1a1a" stroke="#1a1a1a" stroke-width="0.22">fl/fl</text>
<line x1="166.00" y1="243.10" x2="223.00" y2="243.10" stroke="#111" stroke-width="1.05" stroke-linecap="butt"/>
<text x="223.90" y="245.00" font-size="6.80" fill="#1a1a1a" stroke="#1a1a1a" stroke-width="0.22">ns</text>
<line x1="181.60" y1="249.20" x2="223.00" y2="249.20" stroke="#111" stroke-width="1.05" stroke-linecap="butt"/>
<text x="224.30" y="255.10" font-size="10.60" fill="#1a1a1a" stroke="#1a1a1a" stroke-width="0.22" letter-spacing="0.12">****</text>
<line x1="166.00" y1="255.40" x2="207.60" y2="255.40" stroke="#111" stroke-width="1.05" stroke-linecap="butt"/>
<text x="208.50" y="257.30" font-size="6.80" fill="#1a1a1a" stroke="#1a1a1a" stroke-width="0.22">ns</text>
<line x1="166.00" y1="261.40" x2="180.60" y2="261.40" stroke="#111" stroke-width="1.05" stroke-linecap="butt"/>
<text x="181.90" y="267.30" font-size="10.60" fill="#1a1a1a" stroke="#1a1a1a" stroke-width="0.22" letter-spacing="0.12">****</text>
<line x1="208.60" y1="261.40" x2="223.00" y2="261.40" stroke="#111" stroke-width="1.05" stroke-linecap="butt"/>
<text x="223.90" y="263.30" font-size="6.80" fill="#1a1a1a" stroke="#1a1a1a" stroke-width="0.22">ns</text>
<text transform="translate(134.60,304.20) rotate(-90)" x="-29.70" y="0" font-size="9.20" textLength="59.40" lengthAdjust="spacing" fill="#1a1a1a" stroke="#1a1a1a" stroke-width="0.22">pY705-STAT3</text>
<rect x="41.00" y="458.60" width="11.00" height="33.90" fill="#a3a3a3" stroke="#5a5a5a" stroke-width="0.60"/>
<line x1="46.50" y1="455.60" x2="46.50" y2="461.80" stroke="#1a1a1a" stroke-width="0.90" stroke-linecap="butt"/>
<line x1="44.10" y1="455.60" x2="48.90" y2="455.60" stroke="#1a1a1a" stroke-width="0.90" stroke-linecap="butt"/>
<line x1="44.10" y1="461.80" x2="48.90" y2="461.80" stroke="#1a1a1a" stroke-width="0.90" stroke-linecap="butt"/>
<circle cx="46.40" cy="453.60" r="1.80" fill="#2b2b2b" stroke="#000" stroke-width="0.5"/>
<circle cx="43.60" cy="456.60" r="1.80" fill="#2b2b2b" stroke="#000" stroke-width="0.5"/>
<circle cx="49.60" cy="456.00" r="1.80" fill="#2b2b2b" stroke="#000" stroke-width="0.5"/>
<circle cx="46.40" cy="458.40" r="1.80" fill="#2b2b2b" stroke="#000" stroke-width="0.5"/>
<circle cx="43.80" cy="460.00" r="1.80" fill="#2b2b2b" stroke="#000" stroke-width="0.5"/>
<circle cx="49.40" cy="460.60" r="1.80" fill="#2b2b2b" stroke="#000" stroke-width="0.5"/>
<circle cx="46.40" cy="464.60" r="1.80" fill="#2b2b2b" stroke="#000" stroke-width="0.5"/>
<circle cx="46.20" cy="461.20" r="1.80" fill="#2b2b2b" stroke="#000" stroke-width="0.5"/>
<rect x="57.00" y="429.00" width="11.00" height="63.50" fill="#a3a3a3" stroke="#5a5a5a" stroke-width="0.60"/>
<line x1="62.50" y1="423.60" x2="62.50" y2="434.80" stroke="#1a1a1a" stroke-width="0.90" stroke-linecap="butt"/>
<line x1="60.10" y1="423.60" x2="64.90" y2="423.60" stroke="#1a1a1a" stroke-width="0.90" stroke-linecap="butt"/>
<line x1="60.10" y1="434.80" x2="64.90" y2="434.80" stroke="#1a1a1a" stroke-width="0.90" stroke-linecap="butt"/>
<rect x="60.65" y="418.85" width="3.50" height="3.50" fill="#e6107e" stroke="#8e0050" stroke-width="0.55"/>
<rect x="57.25" y="422.85" width="3.50" height="3.50" fill="#e6107e" stroke="#8e0050" stroke-width="0.55"/>
<rect x="64.25" y="423.05" width="3.50" height="3.50" fill="#e6107e" stroke="#8e0050" stroke-width="0.55"/>
<rect x="60.85" y="427.65" width="3.50" height="3.50" fill="#e6107e" stroke="#8e0050" stroke-width="0.55"/>
<rect x="57.25" y="436.25" width="3.50" height="3.50" fill="#e6107e" stroke="#8e0050" stroke-width="0.55"/>
<rect x="64.25" y="435.45" width="3.50" height="3.50" fill="#e6107e" stroke="#8e0050" stroke-width="0.55"/>
<rect x="60.65" y="431.25" width="3.50" height="3.50" fill="#e6107e" stroke="#8e0050" stroke-width="0.55"/>
<rect x="83.60" y="475.60" width="10.60" height="16.90" fill="#a3a3a3" stroke="#5a5a5a" stroke-width="0.60"/>
<line x1="88.90" y1="473.80" x2="88.90" y2="477.40" stroke="#1a1a1a" stroke-width="0.90" stroke-linecap="butt"/>
<line x1="86.50" y1="473.80" x2="91.30" y2="473.80" stroke="#1a1a1a" stroke-width="0.90" stroke-linecap="butt"/>
<line x1="86.50" y1="477.40" x2="91.30" y2="477.40" stroke="#1a1a1a" stroke-width="0.90" stroke-linecap="butt"/>
<circle cx="85.80" cy="475.40" r="1.80" fill="#2b2b2b" stroke="#000" stroke-width="0.5"/>
<circle cx="88.20" cy="476.20" r="1.80" fill="#2b2b2b" stroke="#000" stroke-width="0.5"/>
<circle cx="90.60" cy="474.40" r="1.80" fill="#2b2b2b" stroke="#000" stroke-width="0.5"/>
<circle cx="92.40" cy="472.60" r="1.80" fill="#2b2b2b" stroke="#000" stroke-width="0.5"/>
<circle cx="86.80" cy="476.80" r="1.80" fill="#2b2b2b" stroke="#000" stroke-width="0.5"/>
<circle cx="91.20" cy="476.80" r="1.80" fill="#2b2b2b" stroke="#000" stroke-width="0.5"/>
<rect x="99.40" y="474.00" width="10.60" height="18.50" fill="#a3a3a3" stroke="#5a5a5a" stroke-width="0.60"/>
<line x1="104.70" y1="470.80" x2="104.70" y2="477.60" stroke="#1a1a1a" stroke-width="0.90" stroke-linecap="butt"/>
<line x1="102.30" y1="470.80" x2="107.10" y2="470.80" stroke="#1a1a1a" stroke-width="0.90" stroke-linecap="butt"/>
<line x1="102.30" y1="477.60" x2="107.10" y2="477.60" stroke="#1a1a1a" stroke-width="0.90" stroke-linecap="butt"/>
<rect x="103.05" y="465.25" width="3.50" height="3.50" fill="#e6107e" stroke="#8e0050" stroke-width="0.55"/>
<rect x="99.85" y="471.05" width="3.50" height="3.50" fill="#e6107e" stroke="#8e0050" stroke-width="0.55"/>
<rect x="106.25" y="471.25" width="3.50" height="3.50" fill="#e6107e" stroke="#8e0050" stroke-width="0.55"/>
<rect x="102.85" y="475.65" width="3.50" height="3.50" fill="#e6107e" stroke="#8e0050" stroke-width="0.55"/>
<rect x="99.65" y="477.05" width="3.50" height="3.50" fill="#e6107e" stroke="#8e0050" stroke-width="0.55"/>
<rect x="106.45" y="476.65" width="3.50" height="3.50" fill="#e6107e" stroke="#8e0050" stroke-width="0.55"/>
<rect x="103.05" y="472.85" width="3.50" height="3.50" fill="#e6107e" stroke="#8e0050" stroke-width="0.55"/>
<line x1="33.00" y1="406.85" x2="33.00" y2="493.05" stroke="#111" stroke-width="1.15" stroke-linecap="butt"/>
<line x1="30.20" y1="492.50" x2="117.40" y2="492.50" stroke="#111" stroke-width="1.15" stroke-linecap="butt"/>
<line x1="30.20" y1="407.40" x2="33.00" y2="407.40" stroke="#111" stroke-width="1.10" stroke-linecap="butt"/>
<text x="29.10" y="410.45" font-size="8.60" text-anchor="end" fill="#1a1a1a" stroke="#1a1a1a" stroke-width="0.22" letter-spacing="0.4">2.5</text>
<line x1="30.20" y1="424.40" x2="33.00" y2="424.40" stroke="#111" stroke-width="1.10" stroke-linecap="butt"/>
<text x="29.10" y="427.45" font-size="8.60" text-anchor="end" fill="#1a1a1a" stroke="#1a1a1a" stroke-width="0.22" letter-spacing="0.4">2.0</text>
<line x1="30.20" y1="441.40" x2="33.00" y2="441.40" stroke="#111" stroke-width="1.10" stroke-linecap="butt"/>
<text x="29.10" y="444.45" font-size="8.60" text-anchor="end" fill="#1a1a1a" stroke="#1a1a1a" stroke-width="0.22" letter-spacing="0.4">1.5</text>
<line x1="30.20" y1="458.50" x2="33.00" y2="458.50" stroke="#111" stroke-width="1.10" stroke-linecap="butt"/>
<text x="29.10" y="461.55" font-size="8.60" text-anchor="end" fill="#1a1a1a" stroke="#1a1a1a" stroke-width="0.22" letter-spacing="0.4">1.0</text>
<line x1="30.20" y1="475.50" x2="33.00" y2="475.50" stroke="#111" stroke-width="1.10" stroke-linecap="butt"/>
<text x="29.10" y="478.55" font-size="8.60" text-anchor="end" fill="#1a1a1a" stroke="#1a1a1a" stroke-width="0.22" letter-spacing="0.4">0.5</text>
<line x1="30.20" y1="492.50" x2="33.00" y2="492.50" stroke="#111" stroke-width="1.10" stroke-linecap="butt"/>
<text x="29.10" y="495.55" font-size="8.60" text-anchor="end" fill="#1a1a1a" stroke="#1a1a1a" stroke-width="0.22" letter-spacing="0.4">0.0</text>
<text x="53.60" y="502.60" font-size="9.20" text-anchor="middle" fill="#1a1a1a" stroke="#1a1a1a" stroke-width="0.22"><tspan font-style="italic">Cre</tspan> −</text>
<text x="96.80" y="502.60" font-size="9.20" text-anchor="middle" fill="#1a1a1a" stroke="#1a1a1a" stroke-width="0.22"><tspan font-style="italic">Cre</tspan> +</text>
<line x1="46.00" y1="506.70" x2="107.00" y2="506.70" stroke="#111" stroke-width="1.05" stroke-linecap="butt"/>
<text x="61.00" y="516.60" font-size="9.20" font-style="italic" fill="#1a1a1a" stroke="#1a1a1a" stroke-width="0.22">Stat3</text>
<text x="85.40" y="514.70" font-size="6.50" fill="#1a1a1a" stroke="#1a1a1a" stroke-width="0.22">fl/fl</text>
<line x1="47.60" y1="389.00" x2="105.60" y2="389.00" stroke="#111" stroke-width="1.05" stroke-linecap="butt"/>
<text x="106.90" y="394.90" font-size="10.60" fill="#1a1a1a" stroke="#1a1a1a" stroke-width="0.22" letter-spacing="0.12">****</text>
<line x1="63.40" y1="395.30" x2="105.60" y2="395.30" stroke="#111" stroke-width="1.05" stroke-linecap="butt"/>
<text x="106.90" y="401.20" font-size="10.60" fill="#1a1a1a" stroke="#1a1a1a" stroke-width="0.22" letter-spacing="0.12">****</text>
<line x1="47.60" y1="401.40" x2="89.60" y2="401.40" stroke="#111" stroke-width="1.05" stroke-linecap="butt"/>
<text x="90.90" y="407.30" font-size="10.60" fill="#1a1a1a" stroke="#1a1a1a" stroke-width="0.22" letter-spacing="0.12">****</text>
<line x1="47.60" y1="407.40" x2="62.40" y2="407.40" stroke="#111" stroke-width="1.05" stroke-linecap="butt"/>
<text x="63.70" y="413.30" font-size="10.60" fill="#1a1a1a" stroke="#1a1a1a" stroke-width="0.22" letter-spacing="0.12">****</text>
<line x1="90.40" y1="407.40" x2="105.60" y2="407.40" stroke="#111" stroke-width="1.05" stroke-linecap="butt"/>
<text x="106.50" y="409.30" font-size="6.80" fill="#1a1a1a" stroke="#1a1a1a" stroke-width="0.22">ns</text>
<text transform="translate(12.90,450.90) rotate(-90)" x="-13.70" y="0" font-size="9.20" textLength="27.40" lengthAdjust="spacing" fill="#1a1a1a" stroke="#1a1a1a" stroke-width="0.22">STAT3</text>
<rect x="160.00" y="458.60" width="10.60" height="33.90" fill="#a3a3a3" stroke="#5a5a5a" stroke-width="0.60"/>
<line x1="165.30" y1="454.40" x2="165.30" y2="461.60" stroke="#1a1a1a" stroke-width="0.90" stroke-linecap="butt"/>
<line x1="162.90" y1="454.40" x2="167.70" y2="454.40" stroke="#1a1a1a" stroke-width="0.90" stroke-linecap="butt"/>
<line x1="162.90" y1="461.60" x2="167.70" y2="461.60" stroke="#1a1a1a" stroke-width="0.90" stroke-linecap="butt"/>
<circle cx="165.20" cy="450.60" r="1.80" fill="#2b2b2b" stroke="#000" stroke-width="0.5"/>
<circle cx="162.20" cy="459.60" r="1.80" fill="#2b2b2b" stroke="#000" stroke-width="0.5"/>
<circle cx="165.00" cy="458.20" r="1.80" fill="#2b2b2b" stroke="#000" stroke-width="0.5"/>
<circle cx="168.00" cy="459.40" r="1.80" fill="#2b2b2b" stroke="#000" stroke-width="0.5"/>
<circle cx="163.40" cy="461.20" r="1.80" fill="#2b2b2b" stroke="#000" stroke-width="0.5"/>
<circle cx="166.80" cy="461.40" r="1.80" fill="#2b2b2b" stroke="#000" stroke-width="0.5"/>
<circle cx="164.00" cy="457.40" r="1.80" fill="#2b2b2b" stroke="#000" stroke-width="0.5"/>
<circle cx="167.00" cy="457.00" r="1.80" fill="#2b2b2b" stroke="#000" stroke-width="0.5"/>
<rect x="176.00" y="432.40" width="10.60" height="60.10" fill="#a3a3a3" stroke="#5a5a5a" stroke-width="0.60"/>
<line x1="181.30" y1="426.60" x2="181.30" y2="438.60" stroke="#1a1a1a" stroke-width="0.90" stroke-linecap="butt"/>
<line x1="178.90" y1="426.60" x2="183.70" y2="426.60" stroke="#1a1a1a" stroke-width="0.90" stroke-linecap="butt"/>
<line x1="178.90" y1="438.60" x2="183.70" y2="438.60" stroke="#1a1a1a" stroke-width="0.90" stroke-linecap="butt"/>
<rect x="179.65" y="422.85" width="3.50" height="3.50" fill="#e6107e" stroke="#8e0050" stroke-width="0.55"/>
<rect x="176.25" y="426.25" width="3.50" height="3.50" fill="#e6107e" stroke="#8e0050" stroke-width="0.55"/>
<rect x="182.85" y="428.25" width="3.50" height="3.50" fill="#e6107e" stroke="#8e0050" stroke-width="0.55"/>
<rect x="176.25" y="431.65" width="3.50" height="3.50" fill="#e6107e" stroke="#8e0050" stroke-width="0.55"/>
<rect x="182.65" y="432.85" width="3.50" height="3.50" fill="#e6107e" stroke="#8e0050" stroke-width="0.55"/>
<rect x="176.45" y="441.25" width="3.50" height="3.50" fill="#e6107e" stroke="#8e0050" stroke-width="0.55"/>
<rect x="182.85" y="439.45" width="3.50" height="3.50" fill="#e6107e" stroke="#8e0050" stroke-width="0.55"/>
<rect x="179.45" y="437.25" width="3.50" height="3.50" fill="#e6107e" stroke="#8e0050" stroke-width="0.55"/>
<rect x="202.60" y="472.00" width="10.40" height="20.50" fill="#a3a3a3" stroke="#5a5a5a" stroke-width="0.60"/>
<line x1="207.80" y1="470.60" x2="207.80" y2="473.40" stroke="#1a1a1a" stroke-width="0.90" stroke-linecap="butt"/>
<line x1="205.40" y1="470.60" x2="210.20" y2="470.60" stroke="#1a1a1a" stroke-width="0.90" stroke-linecap="butt"/>
<line x1="205.40" y1="473.40" x2="210.20" y2="473.40" stroke="#1a1a1a" stroke-width="0.90" stroke-linecap="butt"/>
<circle cx="204.80" cy="471.80" r="1.80" fill="#2b2b2b" stroke="#000" stroke-width="0.5"/>
<circle cx="207.20" cy="472.60" r="1.80" fill="#2b2b2b" stroke="#000" stroke-width="0.5"/>
<circle cx="209.60" cy="470.80" r="1.80" fill="#2b2b2b" stroke="#000" stroke-width="0.5"/>
<circle cx="211.40" cy="468.60" r="1.80" fill="#2b2b2b" stroke="#000" stroke-width="0.5"/>
<circle cx="206.00" cy="470.80" r="1.80" fill="#2b2b2b" stroke="#000" stroke-width="0.5"/>
<circle cx="210.60" cy="472.80" r="1.80" fill="#2b2b2b" stroke="#000" stroke-width="0.5"/>
<rect x="218.60" y="470.00" width="10.40" height="22.50" fill="#a3a3a3" stroke="#5a5a5a" stroke-width="0.60"/>
<line x1="223.80" y1="467.60" x2="223.80" y2="472.60" stroke="#1a1a1a" stroke-width="0.90" stroke-linecap="butt"/>
<line x1="221.40" y1="467.60" x2="226.20" y2="467.60" stroke="#1a1a1a" stroke-width="0.90" stroke-linecap="butt"/>
<line x1="221.40" y1="472.60" x2="226.20" y2="472.60" stroke="#1a1a1a" stroke-width="0.90" stroke-linecap="butt"/>
<rect x="219.05" y="466.85" width="3.50" height="3.50" fill="#e6107e" stroke="#8e0050" stroke-width="0.55"/>
<rect x="225.25" y="465.85" width="3.50" height="3.50" fill="#e6107e" stroke="#8e0050" stroke-width="0.55"/>
<rect x="222.25" y="468.85" width="3.50" height="3.50" fill="#e6107e" stroke="#8e0050" stroke-width="0.55"/>
<rect x="219.85" y="470.65" width="3.50" height="3.50" fill="#e6107e" stroke="#8e0050" stroke-width="0.55"/>
<rect x="224.85" y="469.85" width="3.50" height="3.50" fill="#e6107e" stroke="#8e0050" stroke-width="0.55"/>
<rect x="222.25" y="474.05" width="3.50" height="3.50" fill="#e6107e" stroke="#8e0050" stroke-width="0.55"/>
<line x1="151.60" y1="406.85" x2="151.60" y2="493.05" stroke="#111" stroke-width="1.15" stroke-linecap="butt"/>
<line x1="148.80" y1="492.50" x2="237.40" y2="492.50" stroke="#111" stroke-width="1.15" stroke-linecap="butt"/>
<line x1="148.80" y1="407.40" x2="151.60" y2="407.40" stroke="#111" stroke-width="1.10" stroke-linecap="butt"/>
<text x="147.70" y="410.45" font-size="8.60" text-anchor="end" fill="#1a1a1a" stroke="#1a1a1a" stroke-width="0.22" letter-spacing="0.4">2.5</text>
<line x1="148.80" y1="424.40" x2="151.60" y2="424.40" stroke="#111" stroke-width="1.10" stroke-linecap="butt"/>
<text x="147.70" y="427.45" font-size="8.60" text-anchor="end" fill="#1a1a1a" stroke="#1a1a1a" stroke-width="0.22" letter-spacing="0.4">2.0</text>
<line x1="148.80" y1="441.40" x2="151.60" y2="441.40" stroke="#111" stroke-width="1.10" stroke-linecap="butt"/>
<text x="147.70" y="444.45" font-size="8.60" text-anchor="end" fill="#1a1a1a" stroke="#1a1a1a" stroke-width="0.22" letter-spacing="0.4">1.5</text>
<line x1="148.80" y1="458.50" x2="151.60" y2="458.50" stroke="#111" stroke-width="1.10" stroke-linecap="butt"/>
<text x="147.70" y="461.55" font-size="8.60" text-anchor="end" fill="#1a1a1a" stroke="#1a1a1a" stroke-width="0.22" letter-spacing="0.4">1.0</text>
<line x1="148.80" y1="475.50" x2="151.60" y2="475.50" stroke="#111" stroke-width="1.10" stroke-linecap="butt"/>
<text x="147.70" y="478.55" font-size="8.60" text-anchor="end" fill="#1a1a1a" stroke="#1a1a1a" stroke-width="0.22" letter-spacing="0.4">0.5</text>
<line x1="148.80" y1="492.50" x2="151.60" y2="492.50" stroke="#111" stroke-width="1.10" stroke-linecap="butt"/>
<text x="147.70" y="495.55" font-size="8.60" text-anchor="end" fill="#1a1a1a" stroke="#1a1a1a" stroke-width="0.22" letter-spacing="0.4">0.0</text>
<text x="172.60" y="502.60" font-size="9.20" text-anchor="middle" fill="#1a1a1a" stroke="#1a1a1a" stroke-width="0.22"><tspan font-style="italic">Cre</tspan> −</text>
<text x="215.60" y="502.60" font-size="9.20" text-anchor="middle" fill="#1a1a1a" stroke="#1a1a1a" stroke-width="0.22"><tspan font-style="italic">Cre</tspan> +</text>
<line x1="165.00" y1="506.70" x2="226.00" y2="506.70" stroke="#111" stroke-width="1.05" stroke-linecap="butt"/>
<text x="180.20" y="516.60" font-size="9.20" font-style="italic" fill="#1a1a1a" stroke="#1a1a1a" stroke-width="0.22">Stat3</text>
<text x="204.60" y="514.70" font-size="6.50" fill="#1a1a1a" stroke="#1a1a1a" stroke-width="0.22">fl/fl</text>
<line x1="165.00" y1="389.00" x2="222.60" y2="389.00" stroke="#111" stroke-width="1.05" stroke-linecap="butt"/>
<text x="223.90" y="394.90" font-size="10.60" fill="#1a1a1a" stroke="#1a1a1a" stroke-width="0.22" letter-spacing="0.12">***</text>
<line x1="180.60" y1="395.10" x2="222.60" y2="395.10" stroke="#111" stroke-width="1.05" stroke-linecap="butt"/>
<text x="223.90" y="401.00" font-size="10.60" fill="#1a1a1a" stroke="#1a1a1a" stroke-width="0.22" letter-spacing="0.12">****</text>
<line x1="165.00" y1="401.20" x2="206.60" y2="401.20" stroke="#111" stroke-width="1.05" stroke-linecap="butt"/>
<text x="207.90" y="407.10" font-size="10.60" fill="#1a1a1a" stroke="#1a1a1a" stroke-width="0.22" letter-spacing="0.12">***</text>
<line x1="165.00" y1="407.20" x2="179.40" y2="407.20" stroke="#111" stroke-width="1.05" stroke-linecap="butt"/>
<text x="180.70" y="413.10" font-size="10.60" fill="#1a1a1a" stroke="#1a1a1a" stroke-width="0.22" letter-spacing="0.12">****</text>
<line x1="207.40" y1="407.20" x2="222.60" y2="407.20" stroke="#111" stroke-width="1.05" stroke-linecap="butt"/>
<text x="223.50" y="409.10" font-size="6.80" fill="#1a1a1a" stroke="#1a1a1a" stroke-width="0.22">ns</text>
<text transform="translate(130.90,449.30) rotate(-90)" x="-13.70" y="0" font-size="9.20" textLength="27.40" lengthAdjust="spacing" fill="#1a1a1a" stroke="#1a1a1a" stroke-width="0.22">STAT3</text>
</g>
<g id="panelC">
<text x="277.00" y="104.20" font-size="10.60" fill="#1a1a1a" stroke="#1a1a1a" stroke-width="0.22">C</text>
<circle cx="319.10" cy="101.60" r="1.75" fill="#0d0d0d"/>
<text x="323.50" y="104.40" font-size="8.40" font-style="italic" fill="#1a1a1a" stroke="#1a1a1a" stroke-width="0.22">Gfap</text>
<text x="342.20" y="102.00" font-size="7.00" fill="#1a1a1a" stroke="#1a1a1a" stroke-width="0.22">+/+</text>
<rect x="360.10" y="100.00" width="3.20" height="3.20" fill="#e6107e" stroke="#8e0050" stroke-width="0.50"/>
<text x="366.60" y="104.40" font-size="8.40" font-style="italic" fill="#1a1a1a" stroke="#1a1a1a" stroke-width="0.22">Gfap</text>
<text x="385.20" y="102.00" font-size="7.05" fill="#1a1a1a" stroke="#1a1a1a" stroke-width="0.22">+/R236H</text>
<circle cx="447.10" cy="101.60" r="1.75" fill="#0d0d0d"/>
<text x="451.50" y="104.40" font-size="8.40" font-style="italic" fill="#1a1a1a" stroke="#1a1a1a" stroke-width="0.22">Gfap</text>
<text x="470.20" y="102.00" font-size="7.00" fill="#1a1a1a" stroke="#1a1a1a" stroke-width="0.22">+/+</text>
<rect x="488.10" y="100.00" width="3.20" height="3.20" fill="#e6107e" stroke="#8e0050" stroke-width="0.50"/>
<text x="494.60" y="104.40" font-size="8.40" font-style="italic" fill="#1a1a1a" stroke="#1a1a1a" stroke-width="0.22">Gfap</text>
<text x="513.20" y="102.00" font-size="7.05" fill="#1a1a1a" stroke="#1a1a1a" stroke-width="0.22">+/R236H</text>
<rect x="334.00" y="220.00" width="11.00" height="6.80" fill="#a3a3a3" stroke="#5a5a5a" stroke-width="0.60"/>
<line x1="339.50" y1="218.60" x2="339.50" y2="221.40" stroke="#1a1a1a" stroke-width="0.90" stroke-linecap="butt"/>
<line x1="337.10" y1="218.60" x2="341.90" y2="218.60" stroke="#1a1a1a" stroke-width="0.90" stroke-linecap="butt"/>
<line x1="337.10" y1="221.40" x2="341.90" y2="221.40" stroke="#1a1a1a" stroke-width="0.90" stroke-linecap="butt"/>
<circle cx="336.20" cy="218.00" r="1.80" fill="#2b2b2b" stroke="#000" stroke-width="0.5"/>
<circle cx="338.60" cy="219.80" r="1.80" fill="#2b2b2b" stroke="#000" stroke-width="0.5"/>
<circle cx="341.00" cy="220.20" r="1.80" fill="#2b2b2b" stroke="#000" stroke-width="0.5"/>
<circle cx="343.20" cy="219.60" r="1.80" fill="#2b2b2b" stroke="#000" stroke-width="0.5"/>
<circle cx="337.40" cy="220.80" r="1.80" fill="#2b2b2b" stroke="#000" stroke-width="0.5"/>
<circle cx="340.00" cy="218.80" r="1.80" fill="#2b2b2b" stroke="#000" stroke-width="0.5"/>
<circle cx="342.20" cy="221.00" r="1.80" fill="#2b2b2b" stroke="#000" stroke-width="0.5"/>
<rect x="349.60" y="159.40" width="11.00" height="67.40" fill="#a3a3a3" stroke="#5a5a5a" stroke-width="0.60"/>
<line x1="355.10" y1="153.20" x2="355.10" y2="165.60" stroke="#1a1a1a" stroke-width="0.90" stroke-linecap="butt"/>
<line x1="352.70" y1="153.20" x2="357.50" y2="153.20" stroke="#1a1a1a" stroke-width="0.90" stroke-linecap="butt"/>
<line x1="352.70" y1="165.60" x2="357.50" y2="165.60" stroke="#1a1a1a" stroke-width="0.90" stroke-linecap="butt"/>
<rect x="349.85" y="146.45" width="3.50" height="3.50" fill="#e6107e" stroke="#8e0050" stroke-width="0.55"/>
<rect x="353.65" y="149.65" width="3.50" height="3.50" fill="#e6107e" stroke="#8e0050" stroke-width="0.55"/>
<rect x="350.05" y="161.25" width="3.50" height="3.50" fill="#e6107e" stroke="#8e0050" stroke-width="0.55"/>
<rect x="353.45" y="159.25" width="3.50" height="3.50" fill="#e6107e" stroke="#8e0050" stroke-width="0.55"/>
<rect x="357.05" y="159.65" width="3.50" height="3.50" fill="#e6107e" stroke="#8e0050" stroke-width="0.55"/>
<rect x="352.45" y="163.45" width="3.50" height="3.50" fill="#e6107e" stroke="#8e0050" stroke-width="0.55"/>
<rect x="356.25" y="162.85" width="3.50" height="3.50" fill="#e6107e" stroke="#8e0050" stroke-width="0.55"/>
<rect x="353.45" y="167.65" width="3.50" height="3.50" fill="#e6107e" stroke="#8e0050" stroke-width="0.55"/>
<rect x="353.65" y="170.25" width="3.50" height="3.50" fill="#e6107e" stroke="#8e0050" stroke-width="0.55"/>
<rect x="350.65" y="158.65" width="3.50" height="3.50" fill="#e6107e" stroke="#8e0050" stroke-width="0.55"/>
<rect x="377.00" y="226.00" width="10.40" height="0.80" fill="#a3a3a3" stroke="#5a5a5a" stroke-width="0.60"/>
<circle cx="379.20" cy="226.00" r="1.80" fill="#2b2b2b" stroke="#000" stroke-width="0.5"/>
<circle cx="381.40" cy="225.80" r="1.80" fill="#2b2b2b" stroke="#000" stroke-width="0.5"/>
<circle cx="383.40" cy="226.00" r="1.80" fill="#2b2b2b" stroke="#000" stroke-width="0.5"/>
<circle cx="385.40" cy="225.80" r="1.80" fill="#2b2b2b" stroke="#000" stroke-width="0.5"/>
<rect x="392.20" y="226.00" width="10.80" height="0.80" fill="#a3a3a3" stroke="#5a5a5a" stroke-width="0.60"/>
<rect x="392.65" y="224.25" width="3.50" height="3.50" fill="#e6107e" stroke="#8e0050" stroke-width="0.55"/>
<rect x="395.85" y="224.05" width="3.50" height="3.50" fill="#e6107e" stroke="#8e0050" stroke-width="0.55"/>
<rect x="399.05" y="224.25" width="3.50" height="3.50" fill="#e6107e" stroke="#8e0050" stroke-width="0.55"/>
<line x1="326.00" y1="141.85" x2="326.00" y2="227.35" stroke="#111" stroke-width="1.15" stroke-linecap="butt"/>
<line x1="323.20" y1="226.80" x2="412.00" y2="226.80" stroke="#111" stroke-width="1.15" stroke-linecap="butt"/>
<line x1="323.20" y1="142.40" x2="326.00" y2="142.40" stroke="#111" stroke-width="1.10" stroke-linecap="butt"/>
<text x="322.10" y="145.45" font-size="8.60" text-anchor="end" fill="#1a1a1a" stroke="#1a1a1a" stroke-width="0.22" letter-spacing="0.4">4</text>
<line x1="323.20" y1="163.50" x2="326.00" y2="163.50" stroke="#111" stroke-width="1.10" stroke-linecap="butt"/>
<text x="322.10" y="166.55" font-size="8.60" text-anchor="end" fill="#1a1a1a" stroke="#1a1a1a" stroke-width="0.22" letter-spacing="0.4">3</text>
<line x1="323.20" y1="184.60" x2="326.00" y2="184.60" stroke="#111" stroke-width="1.10" stroke-linecap="butt"/>
<text x="322.10" y="187.65" font-size="8.60" text-anchor="end" fill="#1a1a1a" stroke="#1a1a1a" stroke-width="0.22" letter-spacing="0.4">2</text>
<line x1="323.20" y1="205.70" x2="326.00" y2="205.70" stroke="#111" stroke-width="1.10" stroke-linecap="butt"/>
<text x="322.10" y="208.75" font-size="8.60" text-anchor="end" fill="#1a1a1a" stroke="#1a1a1a" stroke-width="0.22" letter-spacing="0.4">1</text>
<line x1="323.20" y1="226.80" x2="326.00" y2="226.80" stroke="#111" stroke-width="1.10" stroke-linecap="butt"/>
<text x="322.10" y="229.85" font-size="8.60" text-anchor="end" fill="#1a1a1a" stroke="#1a1a1a" stroke-width="0.22" letter-spacing="0.4">0</text>
<text x="346.60" y="237.00" font-size="9.20" text-anchor="middle" fill="#1a1a1a" stroke="#1a1a1a" stroke-width="0.22"><tspan font-style="italic">Cre</tspan> −</text>
<text x="389.00" y="237.00" font-size="9.20" text-anchor="middle" fill="#1a1a1a" stroke="#1a1a1a" stroke-width="0.22"><tspan font-style="italic">Cre</tspan> +</text>
<line x1="339.60" y1="127.00" x2="397.40" y2="127.00" stroke="#111" stroke-width="1.05" stroke-linecap="butt"/>
<text x="398.70" y="132.90" font-size="10.60" fill="#1a1a1a" stroke="#1a1a1a" stroke-width="0.22" letter-spacing="0.12">*</text>
<line x1="355.40" y1="132.20" x2="397.40" y2="132.20" stroke="#111" stroke-width="1.05" stroke-linecap="butt"/>
<text x="398.70" y="138.10" font-size="10.60" fill="#1a1a1a" stroke="#1a1a1a" stroke-width="0.22" letter-spacing="0.12">****</text>
<line x1="339.60" y1="137.10" x2="382.00" y2="137.10" stroke="#111" stroke-width="1.05" stroke-linecap="butt"/>
<text x="382.90" y="139.00" font-size="6.80" fill="#1a1a1a" stroke="#1a1a1a" stroke-width="0.22">ns</text>
<line x1="339.60" y1="142.10" x2="355.40" y2="142.10" stroke="#111" stroke-width="1.05" stroke-linecap="butt"/>
<text x="356.70" y="148.00" font-size="10.60" fill="#1a1a1a" stroke="#1a1a1a" stroke-width="0.22" letter-spacing="0.12">****</text>
<line x1="382.60" y1="142.10" x2="397.40" y2="142.10" stroke="#111" stroke-width="1.05" stroke-linecap="butt"/>
<text x="398.30" y="144.00" font-size="6.80" fill="#1a1a1a" stroke="#1a1a1a" stroke-width="0.22">ns</text>
<text transform="translate(312.30,184.20) rotate(-90)" x="-44.20" y="0" font-size="9.15" textLength="88.40" lengthAdjust="spacing" fill="#1a1a1a" stroke="#1a1a1a" stroke-width="0.22">µg GFAP/mg protein</text>
<text x="369.40" y="120.10" font-size="9.30" font-weight="bold" text-anchor="middle" fill="#111" stroke="#111" stroke-width="0.22">hippocampus</text>
<rect x="466.40" y="224.00" width="10.80" height="2.80" fill="#a3a3a3" stroke="#5a5a5a" stroke-width="0.60"/>
<circle cx="468.40" cy="224.20" r="1.80" fill="#2b2b2b" stroke="#000" stroke-width="0.5"/>
<circle cx="470.60" cy="223.60" r="1.80" fill="#2b2b2b" stroke="#000" stroke-width="0.5"/>
<circle cx="472.80" cy="224.00" r="1.80" fill="#2b2b2b" stroke="#000" stroke-width="0.5"/>
<circle cx="475.00" cy="223.80" r="1.80" fill="#2b2b2b" stroke="#000" stroke-width="0.5"/>
<circle cx="471.60" cy="224.40" r="1.80" fill="#2b2b2b" stroke="#000" stroke-width="0.5"/>
<rect x="482.20" y="171.00" width="10.80" height="55.80" fill="#a3a3a3" stroke="#5a5a5a" stroke-width="0.60"/>
<line x1="487.60" y1="166.40" x2="487.60" y2="181.00" stroke="#1a1a1a" stroke-width="0.90" stroke-linecap="butt"/>
<line x1="485.20" y1="166.40" x2="490.00" y2="166.40" stroke="#1a1a1a" stroke-width="0.90" stroke-linecap="butt"/>
<line x1="485.20" y1="181.00" x2="490.00" y2="181.00" stroke="#1a1a1a" stroke-width="0.90" stroke-linecap="butt"/>
<rect x="486.05" y="160.85" width="3.50" height="3.50" fill="#e6107e" stroke="#8e0050" stroke-width="0.55"/>
<rect x="483.25" y="169.25" width="3.50" height="3.50" fill="#e6107e" stroke="#8e0050" stroke-width="0.55"/>
<rect x="489.05" y="169.85" width="3.50" height="3.50" fill="#e6107e" stroke="#8e0050" stroke-width="0.55"/>
<rect x="486.05" y="172.25" width="3.50" height="3.50" fill="#e6107e" stroke="#8e0050" stroke-width="0.55"/>
<rect x="483.45" y="174.25" width="3.50" height="3.50" fill="#e6107e" stroke="#8e0050" stroke-width="0.55"/>
<rect x="488.85" y="175.65" width="3.50" height="3.50" fill="#e6107e" stroke="#8e0050" stroke-width="0.55"/>
<rect x="485.85" y="179.25" width="3.50" height="3.50" fill="#e6107e" stroke="#8e0050" stroke-width="0.55"/>
<rect x="485.65" y="183.65" width="3.50" height="3.50" fill="#e6107e" stroke="#8e0050" stroke-width="0.55"/>
<rect x="485.85" y="186.85" width="3.50" height="3.50" fill="#e6107e" stroke="#8e0050" stroke-width="0.55"/>
<rect x="486.05" y="166.85" width="3.50" height="3.50" fill="#e6107e" stroke="#8e0050" stroke-width="0.55"/>
<rect x="508.60" y="226.00" width="10.60" height="0.80" fill="#a3a3a3" stroke="#5a5a5a" stroke-width="0.60"/>
<circle cx="510.60" cy="226.00" r="1.80" fill="#2b2b2b" stroke="#000" stroke-width="0.5"/>
<circle cx="512.80" cy="225.80" r="1.80" fill="#2b2b2b" stroke="#000" stroke-width="0.5"/>
<circle cx="515.00" cy="226.00" r="1.80" fill="#2b2b2b" stroke="#000" stroke-width="0.5"/>
<circle cx="517.00" cy="225.80" r="1.80" fill="#2b2b2b" stroke="#000" stroke-width="0.5"/>
<rect x="524.40" y="226.00" width="10.60" height="0.80" fill="#a3a3a3" stroke="#5a5a5a" stroke-width="0.60"/>
<rect x="524.65" y="224.25" width="3.50" height="3.50" fill="#e6107e" stroke="#8e0050" stroke-width="0.55"/>
<rect x="527.85" y="224.05" width="3.50" height="3.50" fill="#e6107e" stroke="#8e0050" stroke-width="0.55"/>
<rect x="531.05" y="224.25" width="3.50" height="3.50" fill="#e6107e" stroke="#8e0050" stroke-width="0.55"/>
<line x1="458.00" y1="141.85" x2="458.00" y2="227.35" stroke="#111" stroke-width="1.15" stroke-linecap="butt"/>
<line x1="455.20" y1="226.80" x2="544.00" y2="226.80" stroke="#111" stroke-width="1.15" stroke-linecap="butt"/>
<line x1="455.20" y1="142.40" x2="458.00" y2="142.40" stroke="#111" stroke-width="1.10" stroke-linecap="butt"/>
<text x="454.10" y="145.45" font-size="8.60" text-anchor="end" fill="#1a1a1a" stroke="#1a1a1a" stroke-width="0.22" letter-spacing="0.4">8</text>
<line x1="455.20" y1="163.50" x2="458.00" y2="163.50" stroke="#111" stroke-width="1.10" stroke-linecap="butt"/>
<text x="454.10" y="166.55" font-size="8.60" text-anchor="end" fill="#1a1a1a" stroke="#1a1a1a" stroke-width="0.22" letter-spacing="0.4">6</text>
<line x1="455.20" y1="184.60" x2="458.00" y2="184.60" stroke="#111" stroke-width="1.10" stroke-linecap="butt"/>
<text x="454.10" y="187.65" font-size="8.60" text-anchor="end" fill="#1a1a1a" stroke="#1a1a1a" stroke-width="0.22" letter-spacing="0.4">4</text>
<line x1="455.20" y1="205.70" x2="458.00" y2="205.70" stroke="#111" stroke-width="1.10" stroke-linecap="butt"/>
<text x="454.10" y="208.75" font-size="8.60" text-anchor="end" fill="#1a1a1a" stroke="#1a1a1a" stroke-width="0.22" letter-spacing="0.4">2</text>
<line x1="455.20" y1="226.80" x2="458.00" y2="226.80" stroke="#111" stroke-width="1.10" stroke-linecap="butt"/>
<text x="454.10" y="229.85" font-size="8.60" text-anchor="end" fill="#1a1a1a" stroke="#1a1a1a" stroke-width="0.22" letter-spacing="0.4">0</text>
<text x="477.40" y="236.90" font-size="9.20" text-anchor="middle" fill="#1a1a1a" stroke="#1a1a1a" stroke-width="0.22"><tspan font-style="italic">Cre</tspan> −</text>
<text x="520.90" y="236.90" font-size="9.20" text-anchor="middle" fill="#1a1a1a" stroke="#1a1a1a" stroke-width="0.22"><tspan font-style="italic">Cre</tspan> +</text>
<line x1="471.60" y1="127.00" x2="529.00" y2="127.00" stroke="#111" stroke-width="1.05" stroke-linecap="butt"/>
<text x="529.90" y="128.90" font-size="6.80" fill="#1a1a1a" stroke="#1a1a1a" stroke-width="0.22">ns</text>
<line x1="487.40" y1="132.20" x2="529.00" y2="132.20" stroke="#111" stroke-width="1.05" stroke-linecap="butt"/>
<text x="530.30" y="138.10" font-size="10.60" fill="#1a1a1a" stroke="#1a1a1a" stroke-width="0.22" letter-spacing="0.12">****</text>
<line x1="471.60" y1="137.10" x2="513.60" y2="137.10" stroke="#111" stroke-width="1.05" stroke-linecap="butt"/>
<text x="514.50" y="139.00" font-size="6.80" fill="#1a1a1a" stroke="#1a1a1a" stroke-width="0.22">ns</text>
<line x1="471.60" y1="142.10" x2="487.00" y2="142.10" stroke="#111" stroke-width="1.05" stroke-linecap="butt"/>
<text x="488.30" y="148.00" font-size="10.60" fill="#1a1a1a" stroke="#1a1a1a" stroke-width="0.22" letter-spacing="0.12">****</text>
<line x1="514.20" y1="142.10" x2="529.00" y2="142.10" stroke="#111" stroke-width="1.05" stroke-linecap="butt"/>
<text x="529.90" y="144.00" font-size="6.80" fill="#1a1a1a" stroke="#1a1a1a" stroke-width="0.22">ns</text>
<text transform="translate(444.20,184.20) rotate(-90)" x="-44.20" y="0" font-size="9.15" textLength="88.40" lengthAdjust="spacing" fill="#1a1a1a" stroke="#1a1a1a" stroke-width="0.22">µg GFAP/mg protein</text>
<text x="500.40" y="120.40" font-size="9.30" font-weight="bold" text-anchor="middle" fill="#111" stroke="#111" stroke-width="0.22">olfactory bulb</text>
<rect x="334.00" y="350.20" width="11.00" height="11.00" fill="#a3a3a3" stroke="#5a5a5a" stroke-width="0.60"/>
<line x1="339.50" y1="347.00" x2="339.50" y2="353.40" stroke="#1a1a1a" stroke-width="0.90" stroke-linecap="butt"/>
<line x1="337.10" y1="347.00" x2="341.90" y2="347.00" stroke="#1a1a1a" stroke-width="0.90" stroke-linecap="butt"/>
<line x1="337.10" y1="353.40" x2="341.90" y2="353.40" stroke="#1a1a1a" stroke-width="0.90" stroke-linecap="butt"/>
<circle cx="336.20" cy="345.60" r="1.80" fill="#2b2b2b" stroke="#000" stroke-width="0.5"/>
<circle cx="342.40" cy="345.40" r="1.80" fill="#2b2b2b" stroke="#000" stroke-width="0.5"/>
<circle cx="339.40" cy="348.00" r="1.80" fill="#2b2b2b" stroke="#000" stroke-width="0.5"/>
<circle cx="336.80" cy="350.80" r="1.80" fill="#2b2b2b" stroke="#000" stroke-width="0.5"/>
<circle cx="342.00" cy="351.20" r="1.80" fill="#2b2b2b" stroke="#000" stroke-width="0.5"/>
<circle cx="339.40" cy="353.00" r="1.80" fill="#2b2b2b" stroke="#000" stroke-width="0.5"/>
<circle cx="336.60" cy="354.60" r="1.80" fill="#2b2b2b" stroke="#000" stroke-width="0.5"/>
<circle cx="342.20" cy="354.80" r="1.80" fill="#2b2b2b" stroke="#000" stroke-width="0.5"/>
<rect x="350.00" y="322.00" width="10.60" height="39.20" fill="#a3a3a3" stroke="#5a5a5a" stroke-width="0.60"/>
<line x1="355.30" y1="299.20" x2="355.30" y2="344.20" stroke="#1a1a1a" stroke-width="0.90" stroke-linecap="butt"/>
<line x1="352.90" y1="299.20" x2="357.70" y2="299.20" stroke="#1a1a1a" stroke-width="0.90" stroke-linecap="butt"/>
<line x1="352.90" y1="344.20" x2="357.70" y2="344.20" stroke="#1a1a1a" stroke-width="0.90" stroke-linecap="butt"/>
<rect x="353.45" y="286.45" width="3.50" height="3.50" fill="#e6107e" stroke="#8e0050" stroke-width="0.55"/>
<rect x="350.25" y="301.85" width="3.50" height="3.50" fill="#e6107e" stroke="#8e0050" stroke-width="0.55"/>
<rect x="357.25" y="304.85" width="3.50" height="3.50" fill="#e6107e" stroke="#8e0050" stroke-width="0.55"/>
<rect x="353.45" y="309.65" width="3.50" height="3.50" fill="#e6107e" stroke="#8e0050" stroke-width="0.55"/>
<rect x="350.25" y="334.25" width="3.50" height="3.50" fill="#e6107e" stroke="#8e0050" stroke-width="0.55"/>
<rect x="357.25" y="333.25" width="3.50" height="3.50" fill="#e6107e" stroke="#8e0050" stroke-width="0.55"/>
<rect x="350.45" y="346.25" width="3.50" height="3.50" fill="#e6107e" stroke="#8e0050" stroke-width="0.55"/>
<rect x="357.05" y="345.05" width="3.50" height="3.50" fill="#e6107e" stroke="#8e0050" stroke-width="0.55"/>
<rect x="377.00" y="359.00" width="10.40" height="2.20" fill="#a3a3a3" stroke="#5a5a5a" stroke-width="0.60"/>
<circle cx="379.20" cy="358.60" r="1.80" fill="#2b2b2b" stroke="#000" stroke-width="0.5"/>
<circle cx="381.40" cy="357.80" r="1.80" fill="#2b2b2b" stroke="#000" stroke-width="0.5"/>
<circle cx="383.40" cy="358.80" r="1.80" fill="#2b2b2b" stroke="#000" stroke-width="0.5"/>
<circle cx="385.40" cy="358.20" r="1.80" fill="#2b2b2b" stroke="#000" stroke-width="0.5"/>
<rect x="392.40" y="358.60" width="10.60" height="2.60" fill="#a3a3a3" stroke="#5a5a5a" stroke-width="0.60"/>
<rect x="392.85" y="356.45" width="3.50" height="3.50" fill="#e6107e" stroke="#8e0050" stroke-width="0.55"/>
<rect x="395.85" y="355.45" width="3.50" height="3.50" fill="#e6107e" stroke="#8e0050" stroke-width="0.55"/>
<rect x="399.05" y="356.85" width="3.50" height="3.50" fill="#e6107e" stroke="#8e0050" stroke-width="0.55"/>
<rect x="397.25" y="356.25" width="3.50" height="3.50" fill="#e6107e" stroke="#8e0050" stroke-width="0.55"/>
<line x1="326.00" y1="275.85" x2="326.00" y2="361.75" stroke="#111" stroke-width="1.15" stroke-linecap="butt"/>
<line x1="323.20" y1="361.20" x2="412.00" y2="361.20" stroke="#111" stroke-width="1.15" stroke-linecap="butt"/>
<line x1="323.20" y1="276.40" x2="326.00" y2="276.40" stroke="#111" stroke-width="1.10" stroke-linecap="butt"/>
<text x="322.10" y="279.45" font-size="8.60" text-anchor="end" fill="#1a1a1a" stroke="#1a1a1a" stroke-width="0.22" letter-spacing="0.4">0.4</text>
<line x1="323.20" y1="297.60" x2="326.00" y2="297.60" stroke="#111" stroke-width="1.10" stroke-linecap="butt"/>
<text x="322.10" y="300.65" font-size="8.60" text-anchor="end" fill="#1a1a1a" stroke="#1a1a1a" stroke-width="0.22" letter-spacing="0.4">0.3</text>
<line x1="323.20" y1="318.80" x2="326.00" y2="318.80" stroke="#111" stroke-width="1.10" stroke-linecap="butt"/>
<text x="322.10" y="321.85" font-size="8.60" text-anchor="end" fill="#1a1a1a" stroke="#1a1a1a" stroke-width="0.22" letter-spacing="0.4">0.2</text>
<line x1="323.20" y1="340.00" x2="326.00" y2="340.00" stroke="#111" stroke-width="1.10" stroke-linecap="butt"/>
<text x="322.10" y="343.05" font-size="8.60" text-anchor="end" fill="#1a1a1a" stroke="#1a1a1a" stroke-width="0.22" letter-spacing="0.4">0.1</text>
<line x1="323.20" y1="361.20" x2="326.00" y2="361.20" stroke="#111" stroke-width="1.10" stroke-linecap="butt"/>
<text x="322.10" y="364.25" font-size="8.60" text-anchor="end" fill="#1a1a1a" stroke="#1a1a1a" stroke-width="0.22" letter-spacing="0.4">0.0</text>
<text x="347.40" y="370.40" font-size="9.20" text-anchor="middle" fill="#1a1a1a" stroke="#1a1a1a" stroke-width="0.22"><tspan font-style="italic">Cre</tspan> −</text>
<text x="390.00" y="370.40" font-size="9.20" text-anchor="middle" fill="#1a1a1a" stroke="#1a1a1a" stroke-width="0.22"><tspan font-style="italic">Cre</tspan> +</text>
<line x1="340.60" y1="261.10" x2="398.00" y2="261.10" stroke="#111" stroke-width="1.05" stroke-linecap="butt"/>
<text x="398.90" y="263.00" font-size="6.80" fill="#1a1a1a" stroke="#1a1a1a" stroke-width="0.22">ns</text>
<line x1="356.00" y1="266.30" x2="398.00" y2="266.30" stroke="#111" stroke-width="1.05" stroke-linecap="butt"/>
<text x="399.30" y="272.20" font-size="10.60" fill="#1a1a1a" stroke="#1a1a1a" stroke-width="0.22" letter-spacing="0.12">****</text>
<line x1="340.60" y1="271.20" x2="382.00" y2="271.20" stroke="#111" stroke-width="1.05" stroke-linecap="butt"/>
<text x="382.90" y="273.10" font-size="6.80" fill="#1a1a1a" stroke="#1a1a1a" stroke-width="0.22">ns</text>
<line x1="340.60" y1="276.20" x2="355.00" y2="276.20" stroke="#111" stroke-width="1.05" stroke-linecap="butt"/>
<text x="356.30" y="282.10" font-size="10.60" fill="#1a1a1a" stroke="#1a1a1a" stroke-width="0.22" letter-spacing="0.12">***</text>
<line x1="383.00" y1="276.20" x2="398.00" y2="276.20" stroke="#111" stroke-width="1.05" stroke-linecap="butt"/>
<text x="398.90" y="278.10" font-size="6.80" fill="#1a1a1a" stroke="#1a1a1a" stroke-width="0.22">ns</text>
<text transform="translate(304.60,318.60) rotate(-90)" x="-44.20" y="0" font-size="9.15" textLength="88.40" lengthAdjust="spacing" fill="#1a1a1a" stroke="#1a1a1a" stroke-width="0.22">µg GFAP/mg protein</text>
<text x="372.50" y="254.50" font-size="9.45" font-weight="bold" text-anchor="middle" fill="#111" stroke="#111" stroke-width="0.22">corpus callosum</text>
<rect x="466.00" y="320.00" width="10.60" height="41.20" fill="#a3a3a3" stroke="#5a5a5a" stroke-width="0.60"/>
<line x1="471.30" y1="315.60" x2="471.30" y2="324.40" stroke="#1a1a1a" stroke-width="0.90" stroke-linecap="butt"/>
<line x1="468.90" y1="315.60" x2="473.70" y2="315.60" stroke="#1a1a1a" stroke-width="0.90" stroke-linecap="butt"/>
<line x1="468.90" y1="324.40" x2="473.70" y2="324.40" stroke="#1a1a1a" stroke-width="0.90" stroke-linecap="butt"/>
<circle cx="471.20" cy="310.00" r="1.80" fill="#2b2b2b" stroke="#000" stroke-width="0.5"/>
<circle cx="468.00" cy="316.80" r="1.80" fill="#2b2b2b" stroke="#000" stroke-width="0.5"/>
<circle cx="474.00" cy="317.00" r="1.80" fill="#2b2b2b" stroke="#000" stroke-width="0.5"/>
<circle cx="471.20" cy="319.40" r="1.80" fill="#2b2b2b" stroke="#000" stroke-width="0.5"/>
<circle cx="468.20" cy="322.00" r="1.80" fill="#2b2b2b" stroke="#000" stroke-width="0.5"/>
<circle cx="474.20" cy="322.60" r="1.80" fill="#2b2b2b" stroke="#000" stroke-width="0.5"/>
<circle cx="468.40" cy="326.00" r="1.80" fill="#2b2b2b" stroke="#000" stroke-width="0.5"/>
<circle cx="471.20" cy="324.60" r="1.80" fill="#2b2b2b" stroke="#000" stroke-width="0.5"/>
<circle cx="474.40" cy="325.80" r="1.80" fill="#2b2b2b" stroke="#000" stroke-width="0.5"/>
<rect x="481.60" y="305.20" width="10.80" height="56.00" fill="#a3a3a3" stroke="#5a5a5a" stroke-width="0.60"/>
<line x1="487.00" y1="294.40" x2="487.00" y2="315.20" stroke="#1a1a1a" stroke-width="0.90" stroke-linecap="butt"/>
<line x1="484.60" y1="294.40" x2="489.40" y2="294.40" stroke="#1a1a1a" stroke-width="0.90" stroke-linecap="butt"/>
<line x1="484.60" y1="315.20" x2="489.40" y2="315.20" stroke="#1a1a1a" stroke-width="0.90" stroke-linecap="butt"/>
<rect x="485.25" y="279.65" width="3.50" height="3.50" fill="#e6107e" stroke="#8e0050" stroke-width="0.55"/>
<rect x="485.25" y="297.85" width="3.50" height="3.50" fill="#e6107e" stroke="#8e0050" stroke-width="0.55"/>
<rect x="485.45" y="304.85" width="3.50" height="3.50" fill="#e6107e" stroke="#8e0050" stroke-width="0.55"/>
<rect x="482.25" y="307.85" width="3.50" height="3.50" fill="#e6107e" stroke="#8e0050" stroke-width="0.55"/>
<rect x="488.85" y="308.85" width="3.50" height="3.50" fill="#e6107e" stroke="#8e0050" stroke-width="0.55"/>
<rect x="482.25" y="313.05" width="3.50" height="3.50" fill="#e6107e" stroke="#8e0050" stroke-width="0.55"/>
<rect x="485.65" y="312.45" width="3.50" height="3.50" fill="#e6107e" stroke="#8e0050" stroke-width="0.55"/>
<rect x="488.85" y="311.85" width="3.50" height="3.50" fill="#e6107e" stroke="#8e0050" stroke-width="0.55"/>
<rect x="482.45" y="309.25" width="3.50" height="3.50" fill="#e6107e" stroke="#8e0050" stroke-width="0.55"/>
<rect x="508.00" y="343.20" width="10.80" height="18.00" fill="#a3a3a3" stroke="#5a5a5a" stroke-width="0.60"/>
<line x1="513.40" y1="341.40" x2="513.40" y2="345.00" stroke="#1a1a1a" stroke-width="0.90" stroke-linecap="butt"/>
<line x1="511.00" y1="341.40" x2="515.80" y2="341.40" stroke="#1a1a1a" stroke-width="0.90" stroke-linecap="butt"/>
<line x1="511.00" y1="345.00" x2="515.80" y2="345.00" stroke="#1a1a1a" stroke-width="0.90" stroke-linecap="butt"/>
<circle cx="510.20" cy="342.60" r="1.80" fill="#2b2b2b" stroke="#000" stroke-width="0.5"/>
<circle cx="513.20" cy="341.40" r="1.80" fill="#2b2b2b" stroke="#000" stroke-width="0.5"/>
<circle cx="516.60" cy="342.80" r="1.80" fill="#2b2b2b" stroke="#000" stroke-width="0.5"/>
<circle cx="511.60" cy="344.60" r="1.80" fill="#2b2b2b" stroke="#000" stroke-width="0.5"/>
<circle cx="515.20" cy="344.80" r="1.80" fill="#2b2b2b" stroke="#000" stroke-width="0.5"/>
<circle cx="513.40" cy="346.60" r="1.80" fill="#2b2b2b" stroke="#000" stroke-width="0.5"/>
<circle cx="510.60" cy="340.80" r="1.80" fill="#2b2b2b" stroke="#000" stroke-width="0.5"/>
<rect x="524.00" y="349.40" width="10.60" height="11.80" fill="#a3a3a3" stroke="#5a5a5a" stroke-width="0.60"/>
<line x1="529.30" y1="347.40" x2="529.30" y2="351.40" stroke="#1a1a1a" stroke-width="0.90" stroke-linecap="butt"/>
<line x1="526.90" y1="347.40" x2="531.70" y2="347.40" stroke="#1a1a1a" stroke-width="0.90" stroke-linecap="butt"/>
<line x1="526.90" y1="351.40" x2="531.70" y2="351.40" stroke="#1a1a1a" stroke-width="0.90" stroke-linecap="butt"/>
<rect x="524.45" y="348.85" width="3.50" height="3.50" fill="#e6107e" stroke="#8e0050" stroke-width="0.55"/>
<rect x="527.45" y="345.25" width="3.50" height="3.50" fill="#e6107e" stroke="#8e0050" stroke-width="0.55"/>
<rect x="530.65" y="348.45" width="3.50" height="3.50" fill="#e6107e" stroke="#8e0050" stroke-width="0.55"/>
<rect x="526.05" y="347.05" width="3.50" height="3.50" fill="#e6107e" stroke="#8e0050" stroke-width="0.55"/>
<rect x="529.05" y="349.85" width="3.50" height="3.50" fill="#e6107e" stroke="#8e0050" stroke-width="0.55"/>
<rect x="527.65" y="343.85" width="3.50" height="3.50" fill="#e6107e" stroke="#8e0050" stroke-width="0.55"/>
<line x1="457.60" y1="275.85" x2="457.60" y2="361.75" stroke="#111" stroke-width="1.15" stroke-linecap="butt"/>
<line x1="454.80" y1="361.20" x2="544.00" y2="361.20" stroke="#111" stroke-width="1.15" stroke-linecap="butt"/>
<line x1="454.80" y1="276.40" x2="457.60" y2="276.40" stroke="#111" stroke-width="1.10" stroke-linecap="butt"/>
<text x="453.70" y="279.45" font-size="8.60" text-anchor="end" fill="#1a1a1a" stroke="#1a1a1a" stroke-width="0.22" letter-spacing="0.4">0.5</text>
<line x1="454.80" y1="293.40" x2="457.60" y2="293.40" stroke="#111" stroke-width="1.10" stroke-linecap="butt"/>
<text x="453.70" y="296.45" font-size="8.60" text-anchor="end" fill="#1a1a1a" stroke="#1a1a1a" stroke-width="0.22" letter-spacing="0.4">0.4</text>
<line x1="454.80" y1="310.30" x2="457.60" y2="310.30" stroke="#111" stroke-width="1.10" stroke-linecap="butt"/>
<text x="453.70" y="313.35" font-size="8.60" text-anchor="end" fill="#1a1a1a" stroke="#1a1a1a" stroke-width="0.22" letter-spacing="0.4">0.3</text>
<line x1="454.80" y1="327.30" x2="457.60" y2="327.30" stroke="#111" stroke-width="1.10" stroke-linecap="butt"/>
<text x="453.70" y="330.35" font-size="8.60" text-anchor="end" fill="#1a1a1a" stroke="#1a1a1a" stroke-width="0.22" letter-spacing="0.4">0.2</text>
<line x1="454.80" y1="344.20" x2="457.60" y2="344.20" stroke="#111" stroke-width="1.10" stroke-linecap="butt"/>
<text x="453.70" y="347.25" font-size="8.60" text-anchor="end" fill="#1a1a1a" stroke="#1a1a1a" stroke-width="0.22" letter-spacing="0.4">0.1</text>
<line x1="454.80" y1="361.20" x2="457.60" y2="361.20" stroke="#111" stroke-width="1.10" stroke-linecap="butt"/>
<text x="453.70" y="364.25" font-size="8.60" text-anchor="end" fill="#1a1a1a" stroke="#1a1a1a" stroke-width="0.22" letter-spacing="0.4">0.0</text>
<text x="478.20" y="370.40" font-size="9.20" text-anchor="middle" fill="#1a1a1a" stroke="#1a1a1a" stroke-width="0.22"><tspan font-style="italic">Cre</tspan> −</text>
<text x="522.20" y="370.40" font-size="9.20" text-anchor="middle" fill="#1a1a1a" stroke="#1a1a1a" stroke-width="0.22"><tspan font-style="italic">Cre</tspan> +</text>
<line x1="471.40" y1="260.70" x2="529.40" y2="260.70" stroke="#111" stroke-width="1.05" stroke-linecap="butt"/>
<text x="530.70" y="266.60" font-size="10.60" fill="#1a1a1a" stroke="#1a1a1a" stroke-width="0.22" letter-spacing="0.12">****</text>
<line x1="487.40" y1="265.90" x2="529.40" y2="265.90" stroke="#111" stroke-width="1.05" stroke-linecap="butt"/>
<text x="530.70" y="271.80" font-size="10.60" fill="#1a1a1a" stroke="#1a1a1a" stroke-width="0.22" letter-spacing="0.12">****</text>
<line x1="471.40" y1="270.70" x2="513.60" y2="270.70" stroke="#111" stroke-width="1.05" stroke-linecap="butt"/>
<text x="514.90" y="276.60" font-size="10.60" fill="#1a1a1a" stroke="#1a1a1a" stroke-width="0.22" letter-spacing="0.12">****</text>
<line x1="471.40" y1="275.70" x2="487.00" y2="275.70" stroke="#111" stroke-width="1.05" stroke-linecap="butt"/>
<text x="488.30" y="281.60" font-size="10.60" fill="#1a1a1a" stroke="#1a1a1a" stroke-width="0.22" letter-spacing="0.12">**</text>
<line x1="513.80" y1="275.70" x2="529.00" y2="275.70" stroke="#111" stroke-width="1.05" stroke-linecap="butt"/>
<text x="529.90" y="277.60" font-size="6.80" fill="#1a1a1a" stroke="#1a1a1a" stroke-width="0.22">ns</text>
<text transform="translate(436.80,318.60) rotate(-90)" x="-44.20" y="0" font-size="9.15" textLength="88.40" lengthAdjust="spacing" fill="#1a1a1a" stroke="#1a1a1a" stroke-width="0.22">µg GFAP/mg protein</text>
<text x="500.80" y="254.40" font-size="9.30" font-weight="bold" text-anchor="middle" fill="#111" stroke="#111" stroke-width="0.22">cerebellum</text>
<rect x="333.80" y="427.40" width="11.00" height="69.00" fill="#a3a3a3" stroke="#5a5a5a" stroke-width="0.60"/>
<line x1="339.30" y1="423.20" x2="339.30" y2="436.40" stroke="#1a1a1a" stroke-width="0.90" stroke-linecap="butt"/>
<line x1="336.90" y1="423.20" x2="341.70" y2="423.20" stroke="#1a1a1a" stroke-width="0.90" stroke-linecap="butt"/>
<line x1="336.90" y1="436.40" x2="341.70" y2="436.40" stroke="#1a1a1a" stroke-width="0.90" stroke-linecap="butt"/>
<circle cx="339.20" cy="420.00" r="1.80" fill="#2b2b2b" stroke="#000" stroke-width="0.5"/>
<circle cx="342.60" cy="425.20" r="1.80" fill="#2b2b2b" stroke="#000" stroke-width="0.5"/>
<circle cx="335.60" cy="428.00" r="1.80" fill="#2b2b2b" stroke="#000" stroke-width="0.5"/>
<circle cx="342.60" cy="429.40" r="1.80" fill="#2b2b2b" stroke="#000" stroke-width="0.5"/>
<circle cx="335.60" cy="433.40" r="1.80" fill="#2b2b2b" stroke="#000" stroke-width="0.5"/>
<circle cx="342.60" cy="434.00" r="1.80" fill="#2b2b2b" stroke="#000" stroke-width="0.5"/>
<circle cx="339.00" cy="439.60" r="1.80" fill="#2b2b2b" stroke="#000" stroke-width="0.5"/>
<circle cx="339.00" cy="431.00" r="1.80" fill="#2b2b2b" stroke="#000" stroke-width="0.5"/>
<rect x="349.60" y="449.80" width="10.80" height="46.60" fill="#a3a3a3" stroke="#5a5a5a" stroke-width="0.60"/>
<line x1="355.00" y1="446.20" x2="355.00" y2="453.60" stroke="#1a1a1a" stroke-width="0.90" stroke-linecap="butt"/>
<line x1="352.60" y1="446.20" x2="357.40" y2="446.20" stroke="#1a1a1a" stroke-width="0.90" stroke-linecap="butt"/>
<line x1="352.60" y1="453.60" x2="357.40" y2="453.60" stroke="#1a1a1a" stroke-width="0.90" stroke-linecap="butt"/>
<rect x="350.25" y="443.25" width="3.50" height="3.50" fill="#e6107e" stroke="#8e0050" stroke-width="0.55"/>
<rect x="356.85" y="442.65" width="3.50" height="3.50" fill="#e6107e" stroke="#8e0050" stroke-width="0.55"/>
<rect x="353.65" y="444.85" width="3.50" height="3.50" fill="#e6107e" stroke="#8e0050" stroke-width="0.55"/>
<rect x="350.65" y="446.25" width="3.50" height="3.50" fill="#e6107e" stroke="#8e0050" stroke-width="0.55"/>
<rect x="356.25" y="447.25" width="3.50" height="3.50" fill="#e6107e" stroke="#8e0050" stroke-width="0.55"/>
<rect x="353.85" y="450.25" width="3.50" height="3.50" fill="#e6107e" stroke="#8e0050" stroke-width="0.55"/>
<rect x="351.85" y="454.25" width="3.50" height="3.50" fill="#e6107e" stroke="#8e0050" stroke-width="0.55"/>
<rect x="355.05" y="455.25" width="3.50" height="3.50" fill="#e6107e" stroke="#8e0050" stroke-width="0.55"/>
<rect x="353.45" y="457.65" width="3.50" height="3.50" fill="#e6107e" stroke="#8e0050" stroke-width="0.55"/>
<rect x="377.00" y="485.60" width="10.40" height="10.80" fill="#a3a3a3" stroke="#5a5a5a" stroke-width="0.60"/>
<line x1="382.20" y1="483.60" x2="382.20" y2="487.60" stroke="#1a1a1a" stroke-width="0.90" stroke-linecap="butt"/>
<line x1="379.80" y1="483.60" x2="384.60" y2="483.60" stroke="#1a1a1a" stroke-width="0.90" stroke-linecap="butt"/>
<line x1="379.80" y1="487.60" x2="384.60" y2="487.60" stroke="#1a1a1a" stroke-width="0.90" stroke-linecap="butt"/>
<circle cx="379.00" cy="483.40" r="1.80" fill="#2b2b2b" stroke="#000" stroke-width="0.5"/>
<circle cx="382.00" cy="482.40" r="1.80" fill="#2b2b2b" stroke="#000" stroke-width="0.5"/>
<circle cx="385.20" cy="484.00" r="1.80" fill="#2b2b2b" stroke="#000" stroke-width="0.5"/>
<circle cx="380.40" cy="486.00" r="1.80" fill="#2b2b2b" stroke="#000" stroke-width="0.5"/>
<circle cx="384.00" cy="486.60" r="1.80" fill="#2b2b2b" stroke="#000" stroke-width="0.5"/>
<circle cx="382.20" cy="487.80" r="1.80" fill="#2b2b2b" stroke="#000" stroke-width="0.5"/>
<circle cx="379.40" cy="486.80" r="1.80" fill="#2b2b2b" stroke="#000" stroke-width="0.5"/>
<rect x="392.40" y="491.00" width="10.60" height="5.40" fill="#a3a3a3" stroke="#5a5a5a" stroke-width="0.60"/>
<line x1="397.70" y1="488.60" x2="397.70" y2="493.20" stroke="#1a1a1a" stroke-width="0.90" stroke-linecap="butt"/>
<line x1="395.30" y1="488.60" x2="400.10" y2="488.60" stroke="#1a1a1a" stroke-width="0.90" stroke-linecap="butt"/>
<line x1="395.30" y1="493.20" x2="400.10" y2="493.20" stroke="#1a1a1a" stroke-width="0.90" stroke-linecap="butt"/>
<rect x="395.85" y="483.25" width="3.50" height="3.50" fill="#e6107e" stroke="#8e0050" stroke-width="0.55"/>
<rect x="392.85" y="488.85" width="3.50" height="3.50" fill="#e6107e" stroke="#8e0050" stroke-width="0.55"/>
<rect x="399.05" y="489.05" width="3.50" height="3.50" fill="#e6107e" stroke="#8e0050" stroke-width="0.55"/>
<rect x="395.85" y="490.45" width="3.50" height="3.50" fill="#e6107e" stroke="#8e0050" stroke-width="0.55"/>
<rect x="393.65" y="491.65" width="3.50" height="3.50" fill="#e6107e" stroke="#8e0050" stroke-width="0.55"/>
<rect x="398.25" y="491.85" width="3.50" height="3.50" fill="#e6107e" stroke="#8e0050" stroke-width="0.55"/>
<line x1="326.00" y1="410.85" x2="326.00" y2="496.95" stroke="#111" stroke-width="1.15" stroke-linecap="butt"/>
<line x1="323.20" y1="496.40" x2="412.00" y2="496.40" stroke="#111" stroke-width="1.15" stroke-linecap="butt"/>
<line x1="323.20" y1="411.40" x2="326.00" y2="411.40" stroke="#111" stroke-width="1.10" stroke-linecap="butt"/>
<text x="322.10" y="414.45" font-size="8.60" text-anchor="end" fill="#1a1a1a" stroke="#1a1a1a" stroke-width="0.22" letter-spacing="0.4">2.5</text>
<line x1="323.20" y1="428.40" x2="326.00" y2="428.40" stroke="#111" stroke-width="1.10" stroke-linecap="butt"/>
<text x="322.10" y="431.45" font-size="8.60" text-anchor="end" fill="#1a1a1a" stroke="#1a1a1a" stroke-width="0.22" letter-spacing="0.4">2.0</text>
<line x1="323.20" y1="445.40" x2="326.00" y2="445.40" stroke="#111" stroke-width="1.10" stroke-linecap="butt"/>
<text x="322.10" y="448.45" font-size="8.60" text-anchor="end" fill="#1a1a1a" stroke="#1a1a1a" stroke-width="0.22" letter-spacing="0.4">1.5</text>
<line x1="323.20" y1="462.40" x2="326.00" y2="462.40" stroke="#111" stroke-width="1.10" stroke-linecap="butt"/>
<text x="322.10" y="465.45" font-size="8.60" text-anchor="end" fill="#1a1a1a" stroke="#1a1a1a" stroke-width="0.22" letter-spacing="0.4">1.0</text>
<line x1="323.20" y1="479.40" x2="326.00" y2="479.40" stroke="#111" stroke-width="1.10" stroke-linecap="butt"/>
<text x="322.10" y="482.45" font-size="8.60" text-anchor="end" fill="#1a1a1a" stroke="#1a1a1a" stroke-width="0.22" letter-spacing="0.4">0.5</text>
<line x1="323.20" y1="496.40" x2="326.00" y2="496.40" stroke="#111" stroke-width="1.10" stroke-linecap="butt"/>
<text x="322.10" y="499.45" font-size="8.60" text-anchor="end" fill="#1a1a1a" stroke="#1a1a1a" stroke-width="0.22" letter-spacing="0.4">0.0</text>
<text x="346.40" y="506.30" font-size="9.20" text-anchor="middle" fill="#1a1a1a" stroke="#1a1a1a" stroke-width="0.22"><tspan font-style="italic">Cre</tspan> −</text>
<text x="390.70" y="506.30" font-size="9.20" text-anchor="middle" fill="#1a1a1a" stroke="#1a1a1a" stroke-width="0.22"><tspan font-style="italic">Cre</tspan> +</text>
<line x1="339.00" y1="509.20" x2="400.00" y2="509.20" stroke="#111" stroke-width="1.05" stroke-linecap="butt"/>
<text x="355.00" y="519.00" font-size="9.20" font-style="italic" fill="#1a1a1a" stroke="#1a1a1a" stroke-width="0.22">Stat3</text>
<text x="379.40" y="517.10" font-size="6.50" fill="#1a1a1a" stroke="#1a1a1a" stroke-width="0.22">fl/fl</text>
<line x1="340.00" y1="396.40" x2="398.40" y2="396.40" stroke="#111" stroke-width="1.05" stroke-linecap="butt"/>
<text x="399.70" y="402.30" font-size="10.60" fill="#1a1a1a" stroke="#1a1a1a" stroke-width="0.22" letter-spacing="0.12">****</text>
<line x1="355.60" y1="401.40" x2="398.40" y2="401.40" stroke="#111" stroke-width="1.05" stroke-linecap="butt"/>
<text x="399.70" y="407.30" font-size="10.60" fill="#1a1a1a" stroke="#1a1a1a" stroke-width="0.22" letter-spacing="0.12">****</text>
<line x1="340.00" y1="406.40" x2="382.40" y2="406.40" stroke="#111" stroke-width="1.05" stroke-linecap="butt"/>
<text x="383.70" y="412.30" font-size="10.60" fill="#1a1a1a" stroke="#1a1a1a" stroke-width="0.22" letter-spacing="0.12">****</text>
<line x1="340.00" y1="411.40" x2="355.00" y2="411.40" stroke="#111" stroke-width="1.05" stroke-linecap="butt"/>
<text x="356.30" y="417.30" font-size="10.60" fill="#1a1a1a" stroke="#1a1a1a" stroke-width="0.22" letter-spacing="0.12">****</text>
<line x1="383.00" y1="411.40" x2="398.00" y2="411.40" stroke="#111" stroke-width="1.05" stroke-linecap="butt"/>
<text x="398.90" y="413.30" font-size="6.80" fill="#1a1a1a" stroke="#1a1a1a" stroke-width="0.22">ns</text>
<text transform="translate(304.60,453.40) rotate(-90)" x="-44.20" y="0" font-size="9.15" textLength="88.40" lengthAdjust="spacing" fill="#1a1a1a" stroke="#1a1a1a" stroke-width="0.22">µg GFAP/mg protein</text>
<text x="367.40" y="392.20" font-size="9.30" font-weight="bold" text-anchor="middle" fill="#111" stroke="#111" stroke-width="0.22">brainstem</text>
<rect x="466.00" y="444.40" width="10.60" height="52.00" fill="#a3a3a3" stroke="#5a5a5a" stroke-width="0.60"/>
<line x1="471.30" y1="436.40" x2="471.30" y2="452.00" stroke="#1a1a1a" stroke-width="0.90" stroke-linecap="butt"/>
<line x1="468.90" y1="436.40" x2="473.70" y2="436.40" stroke="#1a1a1a" stroke-width="0.90" stroke-linecap="butt"/>
<line x1="468.90" y1="452.00" x2="473.70" y2="452.00" stroke="#1a1a1a" stroke-width="0.90" stroke-linecap="butt"/>
<circle cx="471.20" cy="431.80" r="1.80" fill="#2b2b2b" stroke="#000" stroke-width="0.5"/>
<circle cx="468.00" cy="439.40" r="1.80" fill="#2b2b2b" stroke="#000" stroke-width="0.5"/>
<circle cx="474.60" cy="438.60" r="1.80" fill="#2b2b2b" stroke="#000" stroke-width="0.5"/>
<circle cx="471.40" cy="444.00" r="1.80" fill="#2b2b2b" stroke="#000" stroke-width="0.5"/>
<circle cx="471.40" cy="448.60" r="1.80" fill="#2b2b2b" stroke="#000" stroke-width="0.5"/>
<circle cx="468.20" cy="454.00" r="1.80" fill="#2b2b2b" stroke="#000" stroke-width="0.5"/>
<circle cx="474.40" cy="454.20" r="1.80" fill="#2b2b2b" stroke="#000" stroke-width="0.5"/>
<circle cx="471.20" cy="453.60" r="1.80" fill="#2b2b2b" stroke="#000" stroke-width="0.5"/>
<rect x="481.60" y="460.00" width="11.00" height="36.40" fill="#a3a3a3" stroke="#5a5a5a" stroke-width="0.60"/>
<line x1="487.10" y1="455.20" x2="487.10" y2="464.60" stroke="#1a1a1a" stroke-width="0.90" stroke-linecap="butt"/>
<line x1="484.70" y1="455.20" x2="489.50" y2="455.20" stroke="#1a1a1a" stroke-width="0.90" stroke-linecap="butt"/>
<line x1="484.70" y1="464.60" x2="489.50" y2="464.60" stroke="#1a1a1a" stroke-width="0.90" stroke-linecap="butt"/>
<rect x="483.85" y="452.25" width="3.50" height="3.50" fill="#e6107e" stroke="#8e0050" stroke-width="0.55"/>
<rect x="486.25" y="454.25" width="3.50" height="3.50" fill="#e6107e" stroke="#8e0050" stroke-width="0.55"/>
<rect x="482.85" y="457.85" width="3.50" height="3.50" fill="#e6107e" stroke="#8e0050" stroke-width="0.55"/>
<rect x="488.45" y="458.65" width="3.50" height="3.50" fill="#e6107e" stroke="#8e0050" stroke-width="0.55"/>
<rect x="485.25" y="460.25" width="3.50" height="3.50" fill="#e6107e" stroke="#8e0050" stroke-width="0.55"/>
<rect x="483.05" y="462.85" width="3.50" height="3.50" fill="#e6107e" stroke="#8e0050" stroke-width="0.55"/>
<rect x="488.65" y="461.65" width="3.50" height="3.50" fill="#e6107e" stroke="#8e0050" stroke-width="0.55"/>
<rect x="485.85" y="465.05" width="3.50" height="3.50" fill="#e6107e" stroke="#8e0050" stroke-width="0.55"/>
<rect x="485.45" y="456.85" width="3.50" height="3.50" fill="#e6107e" stroke="#8e0050" stroke-width="0.55"/>
<rect x="508.00" y="490.00" width="10.60" height="6.40" fill="#a3a3a3" stroke="#5a5a5a" stroke-width="0.60"/>
<line x1="513.30" y1="488.60" x2="513.30" y2="491.40" stroke="#1a1a1a" stroke-width="0.90" stroke-linecap="butt"/>
<line x1="510.90" y1="488.60" x2="515.70" y2="488.60" stroke="#1a1a1a" stroke-width="0.90" stroke-linecap="butt"/>
<line x1="510.90" y1="491.40" x2="515.70" y2="491.40" stroke="#1a1a1a" stroke-width="0.90" stroke-linecap="butt"/>
<circle cx="510.20" cy="490.20" r="1.80" fill="#2b2b2b" stroke="#000" stroke-width="0.5"/>
<circle cx="512.40" cy="488.40" r="1.80" fill="#2b2b2b" stroke="#000" stroke-width="0.5"/>
<circle cx="514.60" cy="489.80" r="1.80" fill="#2b2b2b" stroke="#000" stroke-width="0.5"/>
<circle cx="516.60" cy="488.60" r="1.80" fill="#2b2b2b" stroke="#000" stroke-width="0.5"/>
<circle cx="511.40" cy="491.60" r="1.80" fill="#2b2b2b" stroke="#000" stroke-width="0.5"/>
<circle cx="515.40" cy="491.60" r="1.80" fill="#2b2b2b" stroke="#000" stroke-width="0.5"/>
<circle cx="513.40" cy="487.60" r="1.80" fill="#2b2b2b" stroke="#000" stroke-width="0.5"/>
<rect x="524.00" y="493.40" width="10.60" height="3.00" fill="#a3a3a3" stroke="#5a5a5a" stroke-width="0.60"/>
<rect x="524.25" y="491.65" width="3.50" height="3.50" fill="#e6107e" stroke="#8e0050" stroke-width="0.55"/>
<rect x="526.85" y="490.85" width="3.50" height="3.50" fill="#e6107e" stroke="#8e0050" stroke-width="0.55"/>
<rect x="529.25" y="491.85" width="3.50" height="3.50" fill="#e6107e" stroke="#8e0050" stroke-width="0.55"/>
<rect x="531.25" y="491.25" width="3.50" height="3.50" fill="#e6107e" stroke="#8e0050" stroke-width="0.55"/>
<rect x="528.05" y="492.45" width="3.50" height="3.50" fill="#e6107e" stroke="#8e0050" stroke-width="0.55"/>
<line x1="457.60" y1="410.85" x2="457.60" y2="496.95" stroke="#111" stroke-width="1.15" stroke-linecap="butt"/>
<line x1="454.80" y1="496.40" x2="544.00" y2="496.40" stroke="#111" stroke-width="1.15" stroke-linecap="butt"/>
<line x1="454.80" y1="411.40" x2="457.60" y2="411.40" stroke="#111" stroke-width="1.10" stroke-linecap="butt"/>
<text x="453.70" y="414.45" font-size="8.60" text-anchor="end" fill="#1a1a1a" stroke="#1a1a1a" stroke-width="0.22" letter-spacing="0.4">20</text>
<line x1="454.80" y1="432.60" x2="457.60" y2="432.60" stroke="#111" stroke-width="1.10" stroke-linecap="butt"/>
<text x="453.70" y="435.65" font-size="8.60" text-anchor="end" fill="#1a1a1a" stroke="#1a1a1a" stroke-width="0.22" letter-spacing="0.4">15</text>
<line x1="454.80" y1="453.90" x2="457.60" y2="453.90" stroke="#111" stroke-width="1.10" stroke-linecap="butt"/>
<text x="453.70" y="456.95" font-size="8.60" text-anchor="end" fill="#1a1a1a" stroke="#1a1a1a" stroke-width="0.22" letter-spacing="0.4">10</text>
<line x1="454.80" y1="475.10" x2="457.60" y2="475.10" stroke="#111" stroke-width="1.10" stroke-linecap="butt"/>
<text x="453.70" y="478.15" font-size="8.60" text-anchor="end" fill="#1a1a1a" stroke="#1a1a1a" stroke-width="0.22" letter-spacing="0.4">5</text>
<line x1="454.80" y1="496.40" x2="457.60" y2="496.40" stroke="#111" stroke-width="1.10" stroke-linecap="butt"/>
<text x="453.70" y="499.45" font-size="8.60" text-anchor="end" fill="#1a1a1a" stroke="#1a1a1a" stroke-width="0.22" letter-spacing="0.4">0</text>
<text x="478.40" y="506.40" font-size="9.20" text-anchor="middle" fill="#1a1a1a" stroke="#1a1a1a" stroke-width="0.22"><tspan font-style="italic">Cre</tspan> −</text>
<text x="521.40" y="506.40" font-size="9.20" text-anchor="middle" fill="#1a1a1a" stroke="#1a1a1a" stroke-width="0.22"><tspan font-style="italic">Cre</tspan> +</text>
<line x1="469.00" y1="509.20" x2="532.00" y2="509.20" stroke="#111" stroke-width="1.05" stroke-linecap="butt"/>
<text x="485.00" y="519.00" font-size="9.20" font-style="italic" fill="#1a1a1a" stroke="#1a1a1a" stroke-width="0.22">Stat3</text>
<text x="509.40" y="517.10" font-size="6.50" fill="#1a1a1a" stroke="#1a1a1a" stroke-width="0.22">fl/fl</text>
<line x1="472.00" y1="396.40" x2="530.00" y2="396.40" stroke="#111" stroke-width="1.05" stroke-linecap="butt"/>
<text x="531.30" y="402.30" font-size="10.60" fill="#1a1a1a" stroke="#1a1a1a" stroke-width="0.22" letter-spacing="0.12">****</text>
<line x1="488.00" y1="401.40" x2="530.00" y2="401.40" stroke="#111" stroke-width="1.05" stroke-linecap="butt"/>
<text x="531.30" y="407.30" font-size="10.60" fill="#1a1a1a" stroke="#1a1a1a" stroke-width="0.22" letter-spacing="0.12">****</text>
<line x1="472.00" y1="406.40" x2="514.00" y2="406.40" stroke="#111" stroke-width="1.05" stroke-linecap="butt"/>
<text x="515.30" y="412.30" font-size="10.60" fill="#1a1a1a" stroke="#1a1a1a" stroke-width="0.22" letter-spacing="0.12">****</text>
<line x1="472.00" y1="411.40" x2="487.40" y2="411.40" stroke="#111" stroke-width="1.05" stroke-linecap="butt"/>
<text x="488.70" y="417.30" font-size="10.60" fill="#1a1a1a" stroke="#1a1a1a" stroke-width="0.22" letter-spacing="0.12">****</text>
<line x1="515.00" y1="411.40" x2="530.00" y2="411.40" stroke="#111" stroke-width="1.05" stroke-linecap="butt"/>
<text x="530.90" y="413.30" font-size="6.80" fill="#1a1a1a" stroke="#1a1a1a" stroke-width="0.22">ns</text>
<text transform="translate(439.80,451.40) rotate(-90)" x="-44.20" y="0" font-size="9.15" textLength="88.40" lengthAdjust="spacing" fill="#1a1a1a" stroke="#1a1a1a" stroke-width="0.22">µg GFAP/mg protein</text>
<text x="502.00" y="392.20" font-size="9.30" font-weight="bold" text-anchor="middle" fill="#111" stroke="#111" stroke-width="0.22">spinal cord</text>
</g>
</svg>
</body></html>
